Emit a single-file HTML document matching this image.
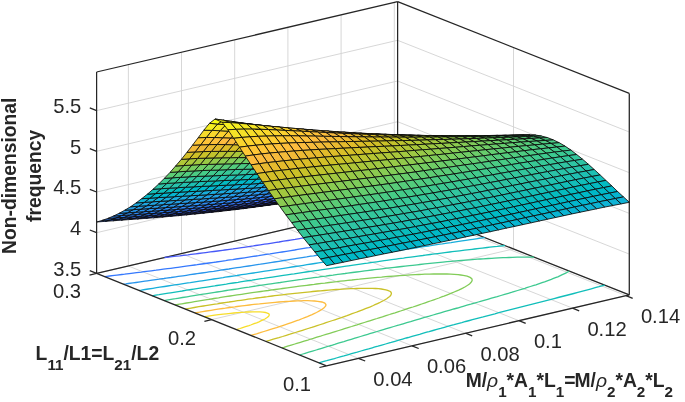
<!DOCTYPE html>
<html><head><meta charset="utf-8"><title>Surface plot</title>
<style>html,body{margin:0;padding:0;background:#fff}svg{display:block}</style></head>
<body>
<svg width="685" height="402" viewBox="0 0 685 402">
<rect width="685" height="402" fill="#fff"/>
<line x1="128.4" y1="266" x2="128.4" y2="64.6" stroke="#d2d2d2" stroke-width="0.9"/>
<line x1="128.4" y1="266" x2="358.4" y2="358.3" stroke="#d2d2d2" stroke-width="0.9"/>
<line x1="181.5" y1="253.6" x2="181.5" y2="52.2" stroke="#d2d2d2" stroke-width="0.9"/>
<line x1="181.5" y1="253.6" x2="412" y2="345.8" stroke="#d2d2d2" stroke-width="0.9"/>
<line x1="234.7" y1="241.1" x2="234.7" y2="39.8" stroke="#d2d2d2" stroke-width="0.9"/>
<line x1="234.7" y1="241.1" x2="465.5" y2="333.2" stroke="#d2d2d2" stroke-width="0.9"/>
<line x1="287.9" y1="228.7" x2="287.9" y2="27.3" stroke="#d2d2d2" stroke-width="0.9"/>
<line x1="287.9" y1="228.7" x2="519" y2="320.7" stroke="#d2d2d2" stroke-width="0.9"/>
<line x1="341.1" y1="216.3" x2="341.1" y2="14.9" stroke="#d2d2d2" stroke-width="0.9"/>
<line x1="341.1" y1="216.3" x2="572.5" y2="308.1" stroke="#d2d2d2" stroke-width="0.9"/>
<line x1="394.3" y1="203.9" x2="394.3" y2="2.5" stroke="#d2d2d2" stroke-width="0.9"/>
<line x1="394.3" y1="203.9" x2="626" y2="295.6" stroke="#d2d2d2" stroke-width="0.9"/>
<line x1="397.6" y1="203.1" x2="397.6" y2="1.7" stroke="#d2d2d2" stroke-width="0.9"/>
<line x1="96.6" y1="273.4" x2="397.6" y2="203.1" stroke="#d2d2d2" stroke-width="0.9"/>
<line x1="513.5" y1="248.9" x2="513.5" y2="47.6" stroke="#d2d2d2" stroke-width="0.9"/>
<line x1="211.6" y1="319.6" x2="513.5" y2="248.9" stroke="#d2d2d2" stroke-width="0.9"/>
<line x1="629.3" y1="294.8" x2="629.3" y2="93.4" stroke="#d2d2d2" stroke-width="0.9"/>
<line x1="326.5" y1="365.8" x2="629.3" y2="294.8" stroke="#d2d2d2" stroke-width="0.9"/>
<line x1="96.6" y1="273.4" x2="397.6" y2="203.1" stroke="#d2d2d2" stroke-width="0.9"/>
<line x1="397.6" y1="203.1" x2="629.3" y2="294.8" stroke="#d2d2d2" stroke-width="0.9"/>
<line x1="96.6" y1="232.7" x2="397.6" y2="162.4" stroke="#d2d2d2" stroke-width="0.9"/>
<line x1="397.6" y1="162.4" x2="629.3" y2="254.1" stroke="#d2d2d2" stroke-width="0.9"/>
<line x1="96.6" y1="192" x2="397.6" y2="121.7" stroke="#d2d2d2" stroke-width="0.9"/>
<line x1="397.6" y1="121.7" x2="629.3" y2="213.4" stroke="#d2d2d2" stroke-width="0.9"/>
<line x1="96.6" y1="151.3" x2="397.6" y2="81" stroke="#d2d2d2" stroke-width="0.9"/>
<line x1="397.6" y1="81" x2="629.3" y2="172.7" stroke="#d2d2d2" stroke-width="0.9"/>
<line x1="96.6" y1="110.6" x2="397.6" y2="40.3" stroke="#d2d2d2" stroke-width="0.9"/>
<line x1="397.6" y1="40.3" x2="629.3" y2="132" stroke="#d2d2d2" stroke-width="0.9"/>
<line x1="96.6" y1="72" x2="397.6" y2="1.7" stroke="#262626" stroke-width="1.25"/>
<line x1="397.6" y1="1.7" x2="629.3" y2="93.4" stroke="#262626" stroke-width="1.25"/>
<line x1="397.6" y1="203.1" x2="397.6" y2="1.7" stroke="#262626" stroke-width="1.25"/>
<line x1="629.3" y1="294.8" x2="629.3" y2="93.4" stroke="#262626" stroke-width="1.25"/>
<line x1="96.6" y1="273.4" x2="397.6" y2="203.1" stroke="#262626" stroke-width="1.25"/>
<line x1="397.6" y1="203.1" x2="629.3" y2="294.8" stroke="#262626" stroke-width="1.25"/>
<polyline points="402.8,205.2 398.7,206.1 394.5,207 390.3,207.9 386.1,208.8 381.9,209.7 377.7,210.6 374.1,211.3 371.3,211.9 367,212.8 362.7,213.6 358.4,214.5 354.1,215.3 349.7,216.2 347.6,216.6 343.2,217.4 338.8,218.2 334.4,219 329.9,219.8 327.7,220.2 323.2,221 318.7,221.8 314.2,222.6 313.9,222.6" fill="none" stroke="#463bdc" stroke-width="1.3"/>
<polyline points="426.5,214.5 422.3,215.4 418.1,216.3 413.9,217.2 409.6,218.1 405.4,219 401.1,219.9 396.9,220.7 392.6,221.6 390.4,222 386.1,222.9 381.8,223.7 377.5,224.6 373.1,225.4 368.8,226.3 366.6,226.7 362.2,227.5 357.8,228.3 353.4,229.2 349,230 346.8,230.4 342.4,231.2 337.9,232 333.5,232.8 331.2,233.2 326.8,234 322.3,234.8 317.8,235.5 315.5,235.9 311,236.7 306.5,237.5 301.9,238.2 299.6,238.6 295.1,239.4 290.5,240.1 288.2,240.5 283.6,241.2 279,242 276.2,242.4 272,243.1 267.4,243.8 264.5,244.2 260.4,244.8 255.7,245.5 253.4,245.9 248.7,246.6 243.9,247.3 241.6,247.6 236.8,248.3 232.9,248.9 229.7,249.3 224.9,250 222.5,250.3 217.7,251 213.9,251.5 210.4,251.9 205.6,252.6 203.2,252.9 198.3,253.5 195.8,253.8 190.9,254.4 188,254.8 183.5,255.3 179.9,255.8 176.1,256.2 172.1,256.7 168.6,257.1 164.5,257.5 164.5,257.5" fill="none" stroke="#4759f8" stroke-width="1.3"/>
<polyline points="447,222.7 443.9,223.3 440.5,223.9 436.2,224.8 431.8,225.6 427.5,226.5 423.1,227.3 421,227.7 416.6,228.6 412.2,229.4 407.8,230.2 403.4,231 400.9,231.5 396.8,232.3 392.4,233.1 387.9,233.9 383.5,234.7 381.3,235.1 376.8,235.9 372.4,236.7 367.9,237.5 365.7,237.9 361.2,238.7 356.7,239.5 352.2,240.3 350,240.6 345.5,241.4 341,242.2 336.5,243 334.2,243.4 329.7,244.1 325.1,244.9 321.2,245.6 318.3,246.1 313.8,246.8 309.2,247.6 306.9,247.9 302.3,248.7 297.8,249.4 294.6,250 290.9,250.6 286.3,251.3 282.1,252 279.4,252.4 274.7,253.1 270.1,253.9 267.8,254.2 263.1,254.9 258.5,255.7 256.2,256 251.5,256.7 247.2,257.4 244.5,257.8 239.8,258.5 236.3,259 232.7,259.6 228,260.2 225.7,260.6 220.9,261.3 216.2,262 213.8,262.3 209.1,263 205.4,263.5 201.9,264 197.2,264.7 194.8,265 190,265.7 186.1,266.2 182.8,266.6 177.9,267.3 175.5,267.6 170.7,268.3 167.6,268.7 163.4,269.2 158.7,269.8 156.1,270.2 151.3,270.8 148.8,271.1 143.9,271.7 141.4,272.1 136.6,272.7 133,273.1 129.2,273.6 124.6,274.2 121.8,274.5 116.9,275.1 114.4,275.4 109.5,276 107,276.3 104.5,276.6" fill="none" stroke="#3578fd" stroke-width="1.3"/>
<polyline points="466,230.2 462.2,230.8 459.3,231.4 454.8,232.1 450.3,232.9 447.1,233.5 443.5,234.1 439,234.9 434.5,235.6 432.2,236 427.7,236.8 423.2,237.6 418.6,238.4 416.4,238.7 411.8,239.5 407.3,240.3 403.4,240.9 400.5,241.4 396,242.2 391.4,243 389.1,243.4 384.6,244.1 380,244.9 375.7,245.6 373.2,246 368.6,246.8 364.1,247.5 361.8,247.9 357.2,248.7 352.6,249.4 349,250 345.8,250.5 341.2,251.3 336.6,252 334.3,252.4 329.7,253.2 325.1,253.9 322.8,254.3 318.2,255 313.6,255.8 310.7,256.2 306.7,256.9 302.1,257.6 298.4,258.2 295.2,258.7 290.5,259.4 286.3,260.1 283.6,260.5 279,261.3 274.4,262 272,262.4 267.4,263.1 262.7,263.8 260.4,264.2 255.7,264.9 251.3,265.6 248.7,266 244.1,266.7 240,267.3 237.1,267.7 232.4,268.4 228.9,269 225.3,269.5 220.7,270.2 218,270.6 213.6,271.3 208.9,271.9 206.5,272.3 201.8,273 197.1,273.7 194.8,274 190,274.7 186.3,275.3 182.9,275.8 178.2,276.4 175.8,276.8 171.1,277.5 166.3,278.1 164,278.5 159.2,279.2 155.9,279.6 152.1,280.2 147.3,280.9 144.9,281.2 140.2,281.9 136,282.5 133,282.9 128.3,283.5 125.9,283.9 123.5,284.2" fill="none" stroke="#2895ec" stroke-width="1.3"/>
<polyline points="484.7,237.6 482.3,237.9 477.6,238.6 472.9,239.3 470.5,239.7 465.8,240.4 462,240.9 458.7,241.4 454,242.1 451.1,242.6 447,243.2 442.3,243.9 439.9,244.2 435.2,244.9 430.6,245.7 428.2,246 423.5,246.7 418.9,247.4 416.5,247.8 411.8,248.5 407.2,249.2 404.8,249.6 400.2,250.3 395.5,251 393.2,251.4 388.5,252.1 383.9,252.8 381.5,253.2 376.8,253.9 372.5,254.6 369.8,255 365.2,255.7 361,256.3 358.2,256.8 353.5,257.5 349.5,258.1 346.5,258.6 341.9,259.3 337.9,259.9 334.9,260.4 330.2,261.1 326.4,261.7 323.3,262.2 318.6,262.9 314.8,263.5 311.6,264 307,264.7 303.3,265.3 300,265.8 295.3,266.5 291.8,267 288.3,267.6 283.7,268.3 280.3,268.8 276.7,269.4 272,270.1 268.9,270.6 265,271.2 260.4,271.9 257.5,272.3 253.4,273 248.7,273.7 246.1,274.1 241.7,274.7 237,275.5 234.7,275.8 230,276.5 225.3,277.2 223,277.6 218.3,278.3 213.7,279 211.3,279.4 206.6,280.1 202,280.8 199.6,281.2 195,281.9 190.3,282.6 187.9,282.9 183.3,283.6 178.9,284.3 176.3,284.7 171.6,285.4 167.7,286 164.6,286.5 159.9,287.2 156.5,287.7 152.9,288.3 148.2,289 145.1,289.5 141.3,290.1 138.9,290.4" fill="none" stroke="#18aedb" stroke-width="1.3"/>
<polyline points="319,362.8 322.9,361.7 326.7,360.7 330.5,359.6 334.4,358.6 336.3,358 340.1,356.9 343.9,355.9 347.7,354.8 351.5,353.7 355.3,352.6 357.2,352.1 361,351 364.8,349.9 368.6,348.9 372.3,347.8 374.2,347.2 378,346.2 381.8,345.1 385.6,344 389.3,342.9 391.2,342.4 395,341.3 398.8,340.2 402.6,339.1 406.3,338 408.2,337.5 412,336.4 415.8,335.3 419.6,334.3 423.4,333.2 426.7,332.2 429.1,331.6 433,330.5 436.8,329.4 440.6,328.4 444.4,327.3 447.6,326.4 450.2,325.7 454.1,324.7 457.9,323.6 461.8,322.6 465.6,321.5 469.5,320.5 472.4,319.7 475.4,318.9 479.3,317.9 483.2,316.9 487.1,315.8 491,314.8 494.9,313.8 498.8,312.7 502.8,311.7 504.7,311.2 508.7,310.2 512.6,309.2 516.6,308.2 520.5,307.2 524.5,306.1 528.4,305.1 532.4,304.1 536.3,303.1 540.3,302.1 544.3,301.1 546.2,300.6 550.2,299.6 554.1,298.6 558.1,297.5 562,296.5 566,295.5 569.9,294.5 573.8,293.5 577.8,292.4 581.7,291.4 583.6,290.9 587.5,289.8 591.3,288.8 595.2,287.7 599,286.7 602.8,285.6 604.7,285.1" fill="none" stroke="#11beba" stroke-width="1.3"/>
<polyline points="504.8,245.5 502.3,245.8 497.3,246.4 494.6,246.6 489.8,247.2 487.1,247.5 482.2,248.1 479.5,248.4 474.5,249 472,249.3 467.1,249.8 464.6,250.1 459.6,250.8 457.1,251.1 452.2,251.7 449.8,252 444.8,252.6 441.3,253.1 437.5,253.6 432.6,254.2 430.2,254.5 425.3,255.1 422.9,255.5 418,256.1 414.6,256.6 410.8,257.1 405.9,257.7 403.5,258.1 398.7,258.7 396,259.1 391.5,259.7 386.7,260.4 384.3,260.7 379.5,261.4 376.7,261.8 372.3,262.4 367.6,263.1 365.2,263.4 360.4,264.1 356.9,264.6 353.3,265.1 348.5,265.8 346.1,266.1 341.4,266.8 336.7,267.5 334.3,267.9 329.6,268.6 326,269.1 322.5,269.6 317.7,270.3 315.4,270.6 310.7,271.3 306,272 303.6,272.4 298.9,273.1 294.2,273.8 291.8,274.1 287.1,274.8 283.3,275.4 280.1,275.9 275.4,276.6 272.3,277.1 268.4,277.7 263.7,278.4 261.2,278.7 256.7,279.4 252,280.2 249.6,280.5 245,281.2 240.3,281.9 238,282.3 233.3,283 228.6,283.7 226.3,284.1 221.6,284.8 217,285.5 214.7,285.9 210,286.6 205.4,287.3 203,287.7 198.4,288.4 193.8,289.1 191.4,289.5 186.8,290.2 182.2,291 179.9,291.3 175.2,292.1 170.6,292.8 168.3,293.2 163.7,293.9 159.1,294.7 155.6,295.2 152.3,295.8 152.3,295.8" fill="none" stroke="#11beba" stroke-width="1.3"/>
<polyline points="299.5,355 302.9,354 305.1,353.3 308.8,352.2 312.5,351.1 316.2,350 318.1,349.4 321.7,348.3 325.4,347.2 329.1,346 331,345.5 334.7,344.4 338.3,343.2 342,342.1 343.9,341.6 347.5,340.4 351.2,339.3 354.9,338.2 356.8,337.6 360.5,336.5 364.1,335.4 367.8,334.3 369.7,333.7 373.4,332.6 377.1,331.5 380.8,330.4 383.4,329.6 386.4,328.7 390.1,327.6 393.8,326.5 397.5,325.4 399.4,324.9 403.1,323.8 406.8,322.7 410.6,321.6 413,320.8 416.2,319.9 419.9,318.8 423.7,317.7 427.4,316.6 429.3,316.1 433.1,315 436.8,313.9 440.6,312.8 444.4,311.7 446.2,311.2 450,310.1 453.8,309 457.6,308 461.3,306.9 463.2,306.3 467,305.2 470.8,304.2 474.5,303.1 478.3,302 480.5,301.4 484,300.4 487.7,299.3 491.5,298.2 495.3,297.1 497.2,296.6 500.9,295.5 504.6,294.4 508.3,293.3 512.1,292.2 513.9,291.6 517.6,290.5 521.3,289.4 524.9,288.3 526.7,287.7 530.4,286.5 533.9,285.4 535.9,284.8 539.3,283.6 542.8,282.4 544.6,281.8 547.9,280.6 551.3,279.4 552.9,278.7 556.2,277.4 557.8,276.8 560.8,275.4 562.3,274.7 565.2,273.3 566.6,272.6 568,271.8 569.2,271" fill="none" stroke="#3dc990" stroke-width="1.3"/>
<polyline points="534,257.1 530.7,257.1 527.5,257.1 524.3,257.1 521.1,257.1 517.1,257.2 512.7,257.3 509,257.5 506,257.6 503.1,257.7 498.5,257.9 494.5,258.1 491.6,258.3 488.2,258.5 483.2,258.8 480.5,259 477.3,259.2 472.2,259.6 469.5,259.8 465.7,260.1 461.4,260.5 458.7,260.7 453.5,261.2 450.8,261.4 447.1,261.7 442.9,262.1 440.3,262.4 435.1,262.9 432.5,263.2 427.4,263.7 424.8,263.9 419.8,264.5 417.1,264.8 412.6,265.3 409.5,265.6 405.1,266.1 401.9,266.5 397.5,267 394.4,267.3 389.7,267.9 386.9,268.2 381.9,268.8 379.5,269.1 374.5,269.7 372,270 367.1,270.6 364.7,270.9 359.8,271.6 356.5,272 352.4,272.5 347.7,273.1 345.1,273.5 340.3,274.1 337.8,274.4 333,275.1 329.6,275.5 325.7,276.1 320.9,276.7 318.5,277.1 313.7,277.7 310.7,278.1 306.5,278.7 301.8,279.4 299.4,279.7 294.6,280.4 291,280.9 287.5,281.4 282.7,282.1 280.3,282.5 275.6,283.1 270.9,283.8 268.5,284.2 263.8,284.9 259.9,285.4 256.7,285.9 252,286.6 249.1,287.1 245,287.7 240.3,288.4 237.9,288.8 233.3,289.5 228.6,290.2 226.3,290.5 221.6,291.3 217,292 214.7,292.3 210,293.1 205.4,293.8 203.1,294.2 198.5,294.9 193.9,295.7 190.6,296.2 187,296.8 182.4,297.5 177.8,298.3 175.6,298.7 171,299.4 166.5,300.2 164.2,300.6" fill="none" stroke="#3dc990" stroke-width="1.3"/>
<polyline points="282,347.9 283.9,347.4 287.6,346.2 291.2,345.1 294.9,344 296.8,343.4 300.4,342.3 304.1,341.2 307.8,340.1 309.6,339.5 313.3,338.4 316.9,337.2 320.6,336.1 322.4,335.5 326,334.4 329.7,333.3 332.7,332.4 335.2,331.6 338.8,330.5 342.5,329.3 344.5,328.7 347.9,327.6 351.6,326.5 355.2,325.3 357,324.8 360.6,323.6 364.3,322.5 367.8,321.4 369.7,320.8 373.4,319.6 377,318.5 379.1,317.8 382.4,316.8 386,315.6 389.6,314.5 391.4,313.9 395,312.8 398.6,311.6 400.6,311 404,309.9 407.5,308.7 410.6,307.7 412.9,307 416.4,305.8 419.9,304.6 421.7,304 425.2,302.8 428.4,301.7 430.4,301 433.8,299.8 436.1,299 439,298 442.3,296.7 444,296.1 447.3,294.8 449,294.2 452.1,292.9 454.2,292 456.8,290.9 458.6,290.1 461.3,288.8 462.7,288.1 465.3,286.7 466.8,285.8 468,285 469.5,283.9 470.9,282.6 471.7,281.5 472.1,280.5 472.1,279.6 471.8,278.7 470.1,277.4 467.1,276.2 463.2,275.3 460.7,275 458.1,274.7 454.2,274.4 450.5,274.2 446.9,274 443.5,274 440.2,274 437,274 433.7,274 429.4,274.1 424.9,274.2 421.8,274.4 418.9,274.5 415.3,274.7 410.3,274.9 407.5,275.1 404.7,275.3 399.3,275.7 396.4,275.9 393.6,276.1 388.3,276.5 385.6,276.7 381.6,277.1 377.7,277.4 375,277.7 369.8,278.2 367.2,278.4 362,278.9 359.4,279.2 355,279.6 351.8,280 347.8,280.4 344.1,280.8 340.4,281.2 336.6,281.7 332.7,282.1 329.1,282.5 324.8,283.1 321.6,283.4 316.7,284 314.2,284.4 309.2,285 306.8,285.3 301.9,285.9 299.5,286.2 294.6,286.9 290.8,287.4 287.3,287.8 282.5,288.5 280.1,288.8 275.3,289.5 272.1,289.9 268.1,290.5 263.3,291.1 260.9,291.5 256.1,292.2 252.2,292.7 249,293.2 244.3,293.9 241.7,294.3 237.2,294.9 232.6,295.6 230.2,296 225.5,296.7 220.9,297.4 218.6,297.8 213.9,298.5 209.3,299.3 207,299.6 202.4,300.4 197.8,301.1 194.5,301.7 191,302.3 186.4,303 181.9,303.8 179.6,304.2 175.1,305 175.1,305" fill="none" stroke="#82cc58" stroke-width="1.3"/>
<polyline points="265.9,341.4 269.6,340.3 273.3,339.2 277,338.1 278.9,337.6 282.6,336.5 286.3,335.3 289.9,334.2 291.7,333.6 295.4,332.5 299,331.4 302.5,330.3 304.5,329.7 308.1,328.5 311.7,327.4 313.5,326.8 317.1,325.6 320.6,324.5 323.4,323.6 326,322.7 329.5,321.5 332.7,320.5 334.8,319.8 338.3,318.6 341.3,317.6 343.5,316.8 347,315.6 349.1,314.8 352.1,313.7 355.5,312.5 357.2,311.9 360.5,310.6 362.6,309.8 365.4,308.7 368.3,307.6 370.3,306.8 373.3,305.5 375,304.7 377.5,303.6 379.5,302.7 381.2,301.8 383.7,300.5 385,299.7 386.7,298.7 388.6,297.3 389.7,296.4 390.6,295.5 391.2,294.4 391.4,293.2 391,292.2 390.3,291.5 387.7,290.3 385.9,289.8 381.3,289 378.6,288.7 375.5,288.5 372.2,288.4 368.6,288.3 364.8,288.3 360.7,288.4 356.8,288.5 353.8,288.6 350.9,288.7 346.7,288.9 342.3,289.1 339.5,289.3 336.1,289.5 331.3,289.9 328.6,290.1 324.4,290.5 320.6,290.8 317.9,291 312.7,291.5 310.1,291.8 304.9,292.3 302.4,292.6 297.6,293.1 294.8,293.4 290.1,293.9 287.2,294.2 282.3,294.8 279.7,295.1 274.8,295.7 272.3,296 267.4,296.7 264.9,297 260.1,297.6 256.8,298 252.8,298.6 248,299.2 245.6,299.6 240.8,300.3 237.6,300.7 233.7,301.3 229,302 226.6,302.3 222,303 217.3,303.8 215,304.1 210.3,304.9 205.7,305.6 203.4,306 198.9,306.7 194.3,307.5 189.8,308.3 187.6,308.7 185.3,309.1" fill="none" stroke="#cac128" stroke-width="1.3"/>
<polyline points="250.8,335.4 254.6,334.3 256.5,333.8 260.2,332.7 263.9,331.5 267.6,330.4 269.8,329.7 273,328.7 276.6,327.6 280.2,326.4 281.9,325.8 285.5,324.6 289,323.4 290.7,322.8 294.1,321.6 296.7,320.7 299.2,319.8 302.5,318.5 304.1,317.9 307.4,316.6 309,315.9 312.1,314.6 313.6,313.9 316.5,312.5 317.9,311.7 319.8,310.7 321.9,309.4 323.1,308.6 324.1,307.7 325.1,306.7 325.8,305.7 325.9,304.5 324.8,303.1 321.9,302 317.7,301.3 314.5,301 311.4,300.8 307.8,300.7 303.9,300.7 300.4,300.8 297.4,300.9 294.4,301 289.9,301.3 286,301.5 283.2,301.7 278.8,302 275.1,302.3 272.5,302.6 267.2,303.1 264.7,303.3 259.5,303.9 257,304.1 251.9,304.7 249.4,305 244.5,305.6 242,305.9 237.1,306.5 234.7,306.9 229.9,307.5 225.3,308.2 222.7,308.5 218,309.2 214.8,309.7 211,310.3 206.3,311 202.7,311.6 199.5,312.2 194.9,312.9 194.9,312.9" fill="none" stroke="#fdbc3e" stroke-width="1.3"/>
<polyline points="236.4,329.6 240.1,328.5 241.9,327.9 245.5,326.7 249,325.6 250.7,325 254.1,323.7 256.6,322.8 259,321.8 261.3,320.7 263.5,319.7 264.9,319 267.1,317.6 268.4,316.5 269.1,315.5 269.2,314.3 268.5,313.6 265.4,312.5 263,312.1 260.1,311.9 256.6,311.8 252.6,311.8 248,312 244.7,312.2 241.9,312.3 237.1,312.7 233.9,313 230.5,313.3 226.2,313.8 223.1,314.1 218.7,314.7 214.6,315.2 211.5,315.7 206.7,316.4 204.4,316.7" fill="none" stroke="#f7dd2a" stroke-width="1.3"/>
<g stroke="#0a0a0a" stroke-width="0.85" stroke-linejoin="round"><polygon points="389.5,183.6 397.6,181.9 403.3,180.7 395.2,182.4" fill="#463bdd"/><polygon points="395.2,182.4 403.3,180.7 409,179.3 400.8,181" fill="#4742e6"/><polygon points="400.8,181 409,179.3 414.7,177.7 406.5,179.4" fill="#4849ed"/><polygon points="406.5,179.4 414.7,177.7 420.4,175.9 412.2,177.7" fill="#4851f3"/><polygon points="412.2,177.7 420.4,175.9 426,174 417.9,175.7" fill="#4758f8"/><polygon points="417.9,175.7 426,174 431.7,171.9 423.6,173.6" fill="#4660fc"/><polygon points="423.6,173.6 431.7,171.9 437.4,169.7 429.3,171.3" fill="#4269fe"/><polygon points="429.3,171.3 437.4,169.7 443.1,167.4 435,168.9" fill="#3b72ff"/><polygon points="435,168.9 443.1,167.4 448.8,164.9 440.6,166.3" fill="#327cfc"/><polygon points="440.6,166.3 448.8,164.9 454.5,162.3 446.3,163.7" fill="#2e85f8"/><polygon points="446.3,163.7 454.5,162.3 460.2,159.7 452,161" fill="#2d8ef1"/><polygon points="452,161 460.2,159.7 465.9,157 457.7,158.1" fill="#2796eb"/><polygon points="457.7,158.1 465.9,157 471.5,154.3 463.4,155.3" fill="#249ee6"/><polygon points="463.4,155.3 471.5,154.3 477.2,151.5 469.1,152.5" fill="#1fa6e2"/><polygon points="469.1,152.5 477.2,151.5 482.9,148.9 474.8,149.7" fill="#18addb"/><polygon points="474.8,149.7 482.9,148.9 488.6,146.3 480.4,146.9" fill="#0cb3d3"/><polygon points="480.4,146.9 488.6,146.3 494.3,143.8 486.1,144.3" fill="#00b8c9"/><polygon points="486.1,144.3 494.3,143.8 500,141.5 491.8,141.9" fill="#07bcbf"/><polygon points="491.8,141.9 500,141.5 505.7,139.4 497.5,139.8" fill="#1ac0b5"/><polygon points="497.5,139.8 505.7,139.4 511.4,137.7 503.2,137.9" fill="#28c2ab"/><polygon points="503.2,137.9 511.4,137.7 517,136.3 508.9,136.5" fill="#30c5a2"/><polygon points="508.9,136.5 517,136.3 524.1,135.2 515.9,135.3" fill="#37c897"/><polygon points="515.9,135.3 524.1,135.2 530,134.9 521.8,135" fill="#3eca8f"/><polygon points="521.8,135 530,134.9 535.8,135.1 527.6,135.4" fill="#44cb89"/><polygon points="527.6,135.4 535.8,135.1 541.6,136.1 533.5,136.3" fill="#49cb85"/><polygon points="533.5,136.3 541.6,136.1 547.5,137.6 539.3,138" fill="#4ccb83"/><polygon points="539.3,138 547.5,137.6 553.3,139.9 545.2,140.4" fill="#4ccb83"/><polygon points="545.2,140.4 553.3,139.9 559.2,142.7 551,143.4" fill="#49cb85"/><polygon points="551,143.4 559.2,142.7 565,146.1 556.8,147" fill="#44cb89"/><polygon points="556.8,147 565,146.1 570.9,150.1 562.7,151.1" fill="#3eca8f"/><polygon points="562.7,151.1 570.9,150.1 576.7,154.5 568.5,155.6" fill="#38c896"/><polygon points="568.5,155.6 576.7,154.5 582.5,159.2 574.4,160.5" fill="#33c79d"/><polygon points="574.4,160.5 582.5,159.2 588.4,164.3 580.2,165.7" fill="#2ec4a4"/><polygon points="580.2,165.7 588.4,164.3 594.2,169.5 586.1,171" fill="#27c2ac"/><polygon points="586.1,171 594.2,169.5 600.1,174.9 591.9,176.5" fill="#1dc0b3"/><polygon points="591.9,176.5 600.1,174.9 605.9,180.4 597.7,182" fill="#0fbeba"/><polygon points="597.7,182 605.9,180.4 611.8,185.9 603.6,187.6" fill="#03bbc2"/><polygon points="603.6,187.6 611.8,185.9 617.6,191.5 609.4,193.1" fill="#00b8c9"/><polygon points="609.4,193.1 617.6,191.5 623.5,196.9 615.3,198.5" fill="#06b5cf"/><polygon points="615.3,198.5 623.5,196.9 629.3,202.3 621.1,203.9" fill="#10b2d5"/><polygon points="381.3,185.4 389.5,183.6 395.2,182.4 387,184.2" fill="#463cde"/><polygon points="387,184.2 395.2,182.4 400.8,181 392.7,182.8" fill="#4742e6"/><polygon points="392.7,182.8 400.8,181 406.5,179.4 398.4,181.2" fill="#4849ed"/><polygon points="398.4,181.2 406.5,179.4 412.2,177.7 404.1,179.4" fill="#4851f3"/><polygon points="404.1,179.4 412.2,177.7 417.9,175.7 409.8,177.4" fill="#4759f8"/><polygon points="409.8,177.4 417.9,175.7 423.6,173.6 415.4,175.2" fill="#4661fc"/><polygon points="415.4,175.2 423.6,173.6 429.3,171.3 421.1,172.9" fill="#426afe"/><polygon points="421.1,172.9 429.3,171.3 435,168.9 426.8,170.4" fill="#3a73ff"/><polygon points="426.8,170.4 435,168.9 440.6,166.3 432.5,167.8" fill="#317dfc"/><polygon points="432.5,167.8 440.6,166.3 446.3,163.7 438.2,165" fill="#2e86f7"/><polygon points="438.2,165 446.3,163.7 452,161 443.9,162.2" fill="#2c8ff0"/><polygon points="443.9,162.2 452,161 457.7,158.1 449.6,159.3" fill="#2798ea"/><polygon points="449.6,159.3 457.7,158.1 463.4,155.3 455.2,156.3" fill="#23a0e5"/><polygon points="455.2,156.3 463.4,155.3 469.1,152.5 460.9,153.3" fill="#1ea8e1"/><polygon points="460.9,153.3 469.1,152.5 474.8,149.7 466.6,150.4" fill="#16afda"/><polygon points="466.6,150.4 474.8,149.7 480.4,146.9 472.3,147.6" fill="#07b5d0"/><polygon points="472.3,147.6 480.4,146.9 486.1,144.3 478,144.8" fill="#00b9c6"/><polygon points="478,144.8 486.1,144.3 491.8,141.9 483.7,142.3" fill="#0ebdbb"/><polygon points="483.7,142.3 491.8,141.9 497.5,139.8 489.4,140.1" fill="#21c1b1"/><polygon points="489.4,140.1 497.5,139.8 503.2,137.9 495,138.2" fill="#2cc4a7"/><polygon points="495,138.2 503.2,137.9 508.9,136.5 500.7,136.7" fill="#33c69d"/><polygon points="500.7,136.7 508.9,136.5 515.9,135.3 507.8,135.5" fill="#3bc992"/><polygon points="507.8,135.5 515.9,135.3 521.8,135 513.6,135.2" fill="#43cb8a"/><polygon points="513.6,135.2 521.8,135 527.6,135.4 519.5,135.6" fill="#4bcb84"/><polygon points="519.5,135.6 527.6,135.4 533.5,136.3 525.3,136.6" fill="#50cc80"/><polygon points="525.3,136.6 533.5,136.3 539.3,138 531.2,138.4" fill="#52cc7e"/><polygon points="531.2,138.4 539.3,138 545.2,140.4 537,141" fill="#51cc7f"/><polygon points="537,141 545.2,140.4 551,143.4 542.8,144.1" fill="#4ecc81"/><polygon points="542.8,144.1 551,143.4 556.8,147 548.7,147.9" fill="#48cb86"/><polygon points="548.7,147.9 556.8,147 562.7,151.1 554.5,152.1" fill="#41ca8c"/><polygon points="554.5,152.1 562.7,151.1 568.5,155.6 560.4,156.8" fill="#3ac993"/><polygon points="560.4,156.8 568.5,155.6 574.4,160.5 566.2,161.8" fill="#34c79b"/><polygon points="566.2,161.8 574.4,160.5 580.2,165.7 572,167.1" fill="#2fc5a3"/><polygon points="572,167.1 580.2,165.7 586.1,171 577.9,172.5" fill="#28c3ab"/><polygon points="577.9,172.5 586.1,171 591.9,176.5 583.7,178.1" fill="#1ec0b2"/><polygon points="583.7,178.1 591.9,176.5 597.7,182 589.6,183.6" fill="#11beba"/><polygon points="589.6,183.6 597.7,182 603.6,187.6 595.4,189.2" fill="#04bbc1"/><polygon points="595.4,189.2 603.6,187.6 609.4,193.1 601.2,194.7" fill="#00b9c8"/><polygon points="601.2,194.7 609.4,193.1 615.3,198.5 607.1,200.2" fill="#05b5cf"/><polygon points="607.1,200.2 615.3,198.5 621.1,203.9 612.9,205.5" fill="#0fb2d4"/><polygon points="373.2,187.1 381.3,185.4 387,184.2 378.9,185.9" fill="#463cde"/><polygon points="378.9,185.9 387,184.2 392.7,182.8 384.6,184.5" fill="#4743e7"/><polygon points="384.6,184.5 392.7,182.8 398.4,181.2 390.2,182.9" fill="#484aee"/><polygon points="390.2,182.9 398.4,181.2 404.1,179.4 395.9,181" fill="#4851f4"/><polygon points="395.9,181 404.1,179.4 409.8,177.4 401.6,179" fill="#4759f9"/><polygon points="401.6,179 409.8,177.4 415.4,175.2 407.3,176.8" fill="#4562fc"/><polygon points="407.3,176.8 415.4,175.2 421.1,172.9 413,174.4" fill="#426bfe"/><polygon points="413,174.4 421.1,172.9 426.8,170.4 418.7,171.8" fill="#3a74ff"/><polygon points="418.7,171.8 426.8,170.4 432.5,167.8 424.4,169.1" fill="#307efb"/><polygon points="424.4,169.1 432.5,167.8 438.2,165 430,166.3" fill="#2d87f7"/><polygon points="430,166.3 438.2,165 443.9,162.2 435.7,163.3" fill="#2c90ef"/><polygon points="435.7,163.3 443.9,162.2 449.6,159.3 441.4,160.3" fill="#2699e9"/><polygon points="441.4,160.3 449.6,159.3 455.2,156.3 447.1,157.2" fill="#22a1e4"/><polygon points="447.1,157.2 455.2,156.3 460.9,153.3 452.8,154.2" fill="#1ca9df"/><polygon points="452.8,154.2 460.9,153.3 466.6,150.4 458.5,151.1" fill="#14b0d7"/><polygon points="458.5,151.1 466.6,150.4 472.3,147.6 464.1,148.2" fill="#04b6cd"/><polygon points="464.1,148.2 472.3,147.6 478,144.8 469.8,145.3" fill="#02bbc3"/><polygon points="469.8,145.3 478,144.8 483.7,142.3 475.5,142.7" fill="#15bfb8"/><polygon points="475.5,142.7 483.7,142.3 489.4,140.1 481.2,140.3" fill="#26c2ad"/><polygon points="481.2,140.3 489.4,140.1 495,138.2 486.9,138.3" fill="#2fc5a3"/><polygon points="486.9,138.3 495,138.2 500.7,136.7 492.6,136.8" fill="#36c898"/><polygon points="492.6,136.8 500.7,136.7 507.8,135.5 499.6,135.6" fill="#40ca8d"/><polygon points="499.6,135.6 507.8,135.5 513.6,135.2 505.5,135.3" fill="#4acb84"/><polygon points="505.5,135.3 513.6,135.2 519.5,135.6 511.3,135.8" fill="#52cc7e"/><polygon points="511.3,135.8 519.5,135.6 525.3,136.6 517.1,136.9" fill="#57cc7a"/><polygon points="517.1,136.9 525.3,136.6 531.2,138.4 523,138.9" fill="#58cc79"/><polygon points="523,138.9 531.2,138.4 537,141 528.8,141.5" fill="#57cc7a"/><polygon points="528.8,141.5 537,141 542.8,144.1 534.7,144.9" fill="#53cc7e"/><polygon points="534.7,144.9 542.8,144.1 548.7,147.9 540.5,148.8" fill="#4ccb83"/><polygon points="540.5,148.8 548.7,147.9 554.5,152.1 546.3,153.2" fill="#44cb8a"/><polygon points="546.3,153.2 554.5,152.1 560.4,156.8 552.2,158" fill="#3cc991"/><polygon points="552.2,158 560.4,156.8 566.2,161.8 558,163.2" fill="#35c79a"/><polygon points="558,163.2 566.2,161.8 572,167.1 563.9,168.6" fill="#30c5a2"/><polygon points="563.9,168.6 572,167.1 577.9,172.5 569.7,174.1" fill="#29c3aa"/><polygon points="569.7,174.1 577.9,172.5 583.7,178.1 575.5,179.7" fill="#1fc0b2"/><polygon points="575.5,179.7 583.7,178.1 589.6,183.6 581.4,185.3" fill="#12beb9"/><polygon points="581.4,185.3 589.6,183.6 595.4,189.2 587.2,190.9" fill="#04bcc1"/><polygon points="587.2,190.9 595.4,189.2 601.2,194.7 593.1,196.4" fill="#00b9c8"/><polygon points="593.1,196.4 601.2,194.7 607.1,200.2 598.9,201.8" fill="#04b6ce"/><polygon points="598.9,201.8 607.1,200.2 612.9,205.5 604.7,207.1" fill="#0eb3d4"/><polygon points="365.1,188.7 373.2,187.1 378.9,185.9 370.7,187.6" fill="#463cdf"/><polygon points="370.7,187.6 378.9,185.9 384.6,184.5 376.4,186.1" fill="#4743e7"/><polygon points="376.4,186.1 384.6,184.5 390.2,182.9 382.1,184.5" fill="#484aee"/><polygon points="382.1,184.5 390.2,182.9 395.9,181 387.8,182.6" fill="#4852f4"/><polygon points="387.8,182.6 395.9,181 401.6,179 393.5,180.6" fill="#475af9"/><polygon points="393.5,180.6 401.6,179 407.3,176.8 399.2,178.3" fill="#4562fc"/><polygon points="399.2,178.3 407.3,176.8 413,174.4 404.8,175.8" fill="#416bfe"/><polygon points="404.8,175.8 413,174.4 418.7,171.8 410.5,173.2" fill="#3875fe"/><polygon points="410.5,173.2 418.7,171.8 424.4,169.1 416.2,170.4" fill="#307ffb"/><polygon points="416.2,170.4 424.4,169.1 430,166.3 421.9,167.5" fill="#2d89f6"/><polygon points="421.9,167.5 430,166.3 435.7,163.3 427.6,164.5" fill="#2b92ee"/><polygon points="427.6,164.5 435.7,163.3 441.4,160.3 433.3,161.3" fill="#269ae8"/><polygon points="433.3,161.3 441.4,160.3 447.1,157.2 438.9,158.2" fill="#21a3e4"/><polygon points="438.9,158.2 447.1,157.2 452.8,154.2 444.6,155" fill="#1babde"/><polygon points="444.6,155 452.8,154.2 458.5,151.1 450.3,151.8" fill="#10b2d5"/><polygon points="450.3,151.8 458.5,151.1 464.1,148.2 456,148.7" fill="#01b7cb"/><polygon points="456,148.7 464.1,148.2 469.8,145.3 461.7,145.8" fill="#06bcbf"/><polygon points="461.7,145.8 469.8,145.3 475.5,142.7 467.4,143" fill="#1bc0b4"/><polygon points="467.4,143 475.5,142.7 481.2,140.3 473,140.6" fill="#2ac3a9"/><polygon points="473,140.6 481.2,140.3 486.9,138.3 478.7,138.5" fill="#32c69e"/><polygon points="478.7,138.5 486.9,138.3 492.6,136.8 484.4,136.9" fill="#3ac993"/><polygon points="484.4,136.9 492.6,136.8 499.6,135.6 491.5,135.7" fill="#47cb87"/><polygon points="491.5,135.7 499.6,135.6 505.5,135.3 497.3,135.4" fill="#52cc7e"/><polygon points="497.3,135.4 505.5,135.3 511.3,135.8 503.1,135.9" fill="#59cc78"/><polygon points="503.1,135.9 511.3,135.8 517.1,136.9 509,137.2" fill="#5dcd74"/><polygon points="509,137.2 517.1,136.9 523,138.9 514.8,139.3" fill="#5ecd74"/><polygon points="514.8,139.3 523,138.9 528.8,141.5 520.7,142.1" fill="#5ccc75"/><polygon points="520.7,142.1 528.8,141.5 534.7,144.9 526.5,145.6" fill="#57cc7a"/><polygon points="526.5,145.6 534.7,144.9 540.5,148.8 532.3,149.7" fill="#50cc80"/><polygon points="532.3,149.7 540.5,148.8 546.3,153.2 538.2,154.3" fill="#47cb87"/><polygon points="538.2,154.3 546.3,153.2 552.2,158 544,159.3" fill="#3dca8f"/><polygon points="544,159.3 552.2,158 558,163.2 549.9,164.6" fill="#36c898"/><polygon points="549.9,164.6 558,163.2 563.9,168.6 555.7,170.1" fill="#31c5a1"/><polygon points="555.7,170.1 563.9,168.6 569.7,174.1 561.5,175.7" fill="#2ac3a9"/><polygon points="561.5,175.7 569.7,174.1 575.5,179.7 567.4,181.4" fill="#20c1b1"/><polygon points="567.4,181.4 575.5,179.7 581.4,185.3 573.2,187" fill="#13beb9"/><polygon points="573.2,187 581.4,185.3 587.2,190.9 579,192.7" fill="#05bcc0"/><polygon points="579,192.7 587.2,190.9 593.1,196.4 584.9,198.2" fill="#00b9c7"/><polygon points="584.9,198.2 593.1,196.4 598.9,201.8 590.7,203.6" fill="#04b6ce"/><polygon points="590.7,203.6 598.9,201.8 604.7,207.1 596.6,208.8" fill="#0db3d3"/><polygon points="356.9,190.4 365.1,188.7 370.7,187.6 362.6,189.2" fill="#463de0"/><polygon points="362.6,189.2 370.7,187.6 376.4,186.1 368.3,187.8" fill="#4744e8"/><polygon points="368.3,187.8 376.4,186.1 382.1,184.5 374,186.1" fill="#484bef"/><polygon points="374,186.1 382.1,184.5 387.8,182.6 379.7,184.2" fill="#4853f4"/><polygon points="379.7,184.2 387.8,182.6 393.5,180.6 385.3,182.1" fill="#475bf9"/><polygon points="385.3,182.1 393.5,180.6 399.2,178.3 391,179.8" fill="#4563fd"/><polygon points="391,179.8 399.2,178.3 404.8,175.8 396.7,177.3" fill="#406cfe"/><polygon points="396.7,177.3 404.8,175.8 410.5,173.2 402.4,174.6" fill="#3776fe"/><polygon points="402.4,174.6 410.5,173.2 416.2,170.4 408.1,171.7" fill="#2f80fa"/><polygon points="408.1,171.7 416.2,170.4 421.9,167.5 413.7,168.7" fill="#2d8af5"/><polygon points="413.7,168.7 421.9,167.5 427.6,164.5 419.4,165.5" fill="#2a93ee"/><polygon points="419.4,165.5 427.6,164.5 433.3,161.3 425.1,162.3" fill="#259ce7"/><polygon points="425.1,162.3 433.3,161.3 438.9,158.2 430.8,159" fill="#20a4e3"/><polygon points="430.8,159 438.9,158.2 444.6,155 436.5,155.7" fill="#19acdc"/><polygon points="436.5,155.7 444.6,155 450.3,151.8 442.2,152.4" fill="#0cb3d3"/><polygon points="442.2,152.4 450.3,151.8 456,148.7 447.8,149.2" fill="#00b9c8"/><polygon points="447.8,149.2 456,148.7 461.7,145.8 453.5,146.2" fill="#0cbdbc"/><polygon points="453.5,146.2 461.7,145.8 467.4,143 459.2,143.3" fill="#21c1b0"/><polygon points="459.2,143.3 467.4,143 473,140.6 464.9,140.8" fill="#2ec4a5"/><polygon points="464.9,140.8 473,140.6 478.7,138.5 470.6,138.6" fill="#36c799"/><polygon points="470.6,138.6 478.7,138.5 484.4,136.9 476.2,137" fill="#3fca8e"/><polygon points="476.2,137 484.4,136.9 491.5,135.7 483.3,135.8" fill="#4fcc81"/><polygon points="483.3,135.8 491.5,135.7 497.3,135.4 489.1,135.5" fill="#59cc78"/><polygon points="489.1,135.5 497.3,135.4 503.1,135.9 495,136.1" fill="#60cd72"/><polygon points="495,136.1 503.1,135.9 509,137.2 500.8,137.5" fill="#64cd6f"/><polygon points="500.8,137.5 509,137.2 514.8,139.3 506.7,139.8" fill="#65cd6e"/><polygon points="506.7,139.8 514.8,139.3 520.7,142.1 512.5,142.7" fill="#62cd71"/><polygon points="512.5,142.7 520.7,142.1 526.5,145.6 518.3,146.4" fill="#5ccc76"/><polygon points="518.3,146.4 526.5,145.6 532.3,149.7 524.2,150.7" fill="#54cc7d"/><polygon points="524.2,150.7 532.3,149.7 538.2,154.3 530,155.5" fill="#4acb85"/><polygon points="530,155.5 538.2,154.3 544,159.3 535.8,160.6" fill="#3fca8e"/><polygon points="535.8,160.6 544,159.3 549.9,164.6 541.7,166" fill="#37c897"/><polygon points="541.7,166 549.9,164.6 555.7,170.1 547.5,171.6" fill="#31c6a0"/><polygon points="547.5,171.6 555.7,170.1 561.5,175.7 553.4,177.3" fill="#2bc3a8"/><polygon points="553.4,177.3 561.5,175.7 567.4,181.4 559.2,183.1" fill="#21c1b0"/><polygon points="559.2,183.1 567.4,181.4 573.2,187 565,188.8" fill="#13beb8"/><polygon points="565,188.8 573.2,187 579,192.7 570.9,194.4" fill="#05bcc0"/><polygon points="570.9,194.4 579,192.7 584.9,198.2 576.7,199.9" fill="#00b9c7"/><polygon points="576.7,199.9 584.9,198.2 590.7,203.6 582.5,205.3" fill="#04b6cd"/><polygon points="582.5,205.3 590.7,203.6 596.6,208.8 588.4,210.5" fill="#0cb3d3"/><polygon points="348.8,191.9 356.9,190.4 362.6,189.2 354.5,190.8" fill="#463de0"/><polygon points="354.5,190.8 362.6,189.2 368.3,187.8 360.2,189.3" fill="#4744e8"/><polygon points="360.2,189.3 368.3,187.8 374,186.1 365.8,187.6" fill="#484cef"/><polygon points="365.8,187.6 374,186.1 379.7,184.2 371.5,185.7" fill="#4853f5"/><polygon points="371.5,185.7 379.7,184.2 385.3,182.1 377.2,183.6" fill="#475bfa"/><polygon points="377.2,183.6 385.3,182.1 391,179.8 382.9,181.2" fill="#4564fd"/><polygon points="382.9,181.2 391,179.8 396.7,177.3 388.6,178.6" fill="#406dfe"/><polygon points="388.6,178.6 396.7,177.3 402.4,174.6 394.2,175.9" fill="#3678fe"/><polygon points="394.2,175.9 402.4,174.6 408.1,171.7 399.9,172.9" fill="#2f82fa"/><polygon points="399.9,172.9 408.1,171.7 413.7,168.7 405.6,169.8" fill="#2d8bf4"/><polygon points="405.6,169.8 413.7,168.7 419.4,165.5 411.3,166.6" fill="#2994ed"/><polygon points="411.3,166.6 419.4,165.5 425.1,162.3 417,163.2" fill="#259de6"/><polygon points="417,163.2 425.1,162.3 430.8,159 422.6,159.8" fill="#1fa6e2"/><polygon points="422.6,159.8 430.8,159 436.5,155.7 428.3,156.4" fill="#18aedb"/><polygon points="428.3,156.4 436.5,155.7 442.2,152.4 434,153" fill="#08b5d0"/><polygon points="434,153 442.2,152.4 447.8,149.2 439.7,149.7" fill="#01bac5"/><polygon points="439.7,149.7 447.8,149.2 453.5,146.2 445.4,146.5" fill="#13beb8"/><polygon points="445.4,146.5 453.5,146.2 459.2,143.3 451,143.6" fill="#27c2ac"/><polygon points="451,143.6 459.2,143.3 464.9,140.8 456.7,140.9" fill="#31c6a0"/><polygon points="456.7,140.9 464.9,140.8 470.6,138.6 462.4,138.7" fill="#3ac994"/><polygon points="462.4,138.7 470.6,138.6 476.2,137 468.1,137" fill="#46cb88"/><polygon points="468.1,137 476.2,137 483.3,135.8 475.1,135.8" fill="#56cc7a"/><polygon points="475.1,135.8 483.3,135.8 489.1,135.5 481,135.6" fill="#61cd72"/><polygon points="481,135.6 489.1,135.5 495,136.1 486.8,136.3" fill="#68cd6b"/><polygon points="486.8,136.3 495,136.1 500.8,137.5 492.6,137.8" fill="#6bcd68"/><polygon points="492.6,137.8 500.8,137.5 506.7,139.8 498.5,140.2" fill="#6bcd69"/><polygon points="498.5,140.2 506.7,139.8 512.5,142.7 504.3,143.4" fill="#67cd6c"/><polygon points="504.3,143.4 512.5,142.7 518.3,146.4 510.2,147.2" fill="#61cd72"/><polygon points="510.2,147.2 518.3,146.4 524.2,150.7 516,151.7" fill="#58cc79"/><polygon points="516,151.7 524.2,150.7 530,155.5 521.8,156.6" fill="#4dcc82"/><polygon points="521.8,156.6 530,155.5 535.8,160.6 527.7,161.9" fill="#41ca8c"/><polygon points="527.7,161.9 535.8,160.6 541.7,166 533.5,167.5" fill="#38c895"/><polygon points="533.5,167.5 541.7,166 547.5,171.6 539.3,173.2" fill="#32c69f"/><polygon points="539.3,173.2 547.5,171.6 553.4,177.3 545.2,179" fill="#2bc3a8"/><polygon points="545.2,179 553.4,177.3 559.2,183.1 551,184.8" fill="#22c1b0"/><polygon points="551,184.8 559.2,183.1 565,188.8 556.9,190.5" fill="#14bfb8"/><polygon points="556.9,190.5 565,188.8 570.9,194.4 562.7,196.2" fill="#06bcbf"/><polygon points="562.7,196.2 570.9,194.4 576.7,199.9 568.5,201.7" fill="#00b9c6"/><polygon points="568.5,201.7 576.7,199.9 582.5,205.3 574.4,207" fill="#03b6cd"/><polygon points="574.4,207 582.5,205.3 588.4,210.5 580.2,212.2" fill="#0cb3d3"/><polygon points="340.7,193.5 348.8,191.9 354.5,190.8 346.3,192.3" fill="#473ee1"/><polygon points="346.3,192.3 354.5,190.8 360.2,189.3 352,190.9" fill="#4745e9"/><polygon points="352,190.9 360.2,189.3 365.8,187.6 357.7,189.2" fill="#484cf0"/><polygon points="357.7,189.2 365.8,187.6 371.5,185.7 363.4,187.2" fill="#4854f5"/><polygon points="363.4,187.2 371.5,185.7 377.2,183.6 369.1,185" fill="#475cfa"/><polygon points="369.1,185 377.2,183.6 382.9,181.2 374.7,182.6" fill="#4465fd"/><polygon points="374.7,182.6 382.9,181.2 388.6,178.6 380.4,180" fill="#3f6eff"/><polygon points="380.4,180 388.6,178.6 394.2,175.9 386.1,177.1" fill="#3579fd"/><polygon points="386.1,177.1 394.2,175.9 399.9,172.9 391.8,174.1" fill="#2e83f9"/><polygon points="391.8,174.1 399.9,172.9 405.6,169.8 397.4,170.9" fill="#2d8df2"/><polygon points="397.4,170.9 405.6,169.8 411.3,166.6 403.1,167.6" fill="#2896eb"/><polygon points="403.1,167.6 411.3,166.6 417,163.2 408.8,164.1" fill="#249fe5"/><polygon points="408.8,164.1 417,163.2 422.6,159.8 414.5,160.6" fill="#1ea8e1"/><polygon points="414.5,160.6 422.6,159.8 428.3,156.4 420.2,157.1" fill="#15afd9"/><polygon points="420.2,157.1 428.3,156.4 434,153 425.8,153.6" fill="#04b6cd"/><polygon points="425.8,153.6 434,153 439.7,149.7 431.5,150.1" fill="#04bbc1"/><polygon points="431.5,150.1 439.7,149.7 445.4,146.5 437.2,146.8" fill="#1abfb5"/><polygon points="437.2,146.8 445.4,146.5 451,143.6 442.9,143.8" fill="#2bc3a8"/><polygon points="442.9,143.8 451,143.6 456.7,140.9 448.6,141" fill="#34c79b"/><polygon points="448.6,141 456.7,140.9 462.4,138.7 454.2,138.8" fill="#3fca8e"/><polygon points="454.2,138.8 462.4,138.7 468.1,137 459.9,137" fill="#4dcc82"/><polygon points="459.9,137 468.1,137 475.1,135.8 467,135.8" fill="#5ecd74"/><polygon points="467,135.8 475.1,135.8 481,135.6 472.8,135.7" fill="#69cd6b"/><polygon points="472.8,135.7 481,135.6 486.8,136.3 478.6,136.5" fill="#70cd65"/><polygon points="478.6,136.5 486.8,136.3 492.6,137.8 484.5,138.1" fill="#73cd63"/><polygon points="484.5,138.1 492.6,137.8 498.5,140.2 490.3,140.7" fill="#72cd63"/><polygon points="490.3,140.7 498.5,140.2 504.3,143.4 496.2,144" fill="#6dcd67"/><polygon points="496.2,144 504.3,143.4 510.2,147.2 502,148.1" fill="#65cd6e"/><polygon points="502,148.1 510.2,147.2 516,151.7 507.8,152.7" fill="#5ccc76"/><polygon points="507.8,152.7 516,151.7 521.8,156.6 513.7,157.8" fill="#50cc80"/><polygon points="513.7,157.8 521.8,156.6 527.7,161.9 519.5,163.2" fill="#43cb8a"/><polygon points="519.5,163.2 527.7,161.9 533.5,167.5 525.3,168.9" fill="#39c994"/><polygon points="525.3,168.9 533.5,167.5 539.3,173.2 531.2,174.7" fill="#32c69e"/><polygon points="531.2,174.7 539.3,173.2 545.2,179 537,180.6" fill="#2cc4a7"/><polygon points="537,180.6 545.2,179 551,184.8 542.8,186.5" fill="#23c1af"/><polygon points="542.8,186.5 551,184.8 556.9,190.5 548.7,192.3" fill="#15bfb8"/><polygon points="548.7,192.3 556.9,190.5 562.7,196.2 554.5,197.9" fill="#06bcbf"/><polygon points="554.5,197.9 562.7,196.2 568.5,201.7 560.3,203.5" fill="#00b9c6"/><polygon points="560.3,203.5 568.5,201.7 574.4,207 566.2,208.8" fill="#03b6cd"/><polygon points="566.2,208.8 574.4,207 580.2,212.2 572,213.9" fill="#0bb3d2"/><polygon points="332.5,195 340.7,193.5 346.3,192.3 338.2,193.8" fill="#473fe2"/><polygon points="338.2,193.8 346.3,192.3 352,190.9 343.9,192.3" fill="#4746ea"/><polygon points="343.9,192.3 352,190.9 357.7,189.2 349.6,190.6" fill="#484df0"/><polygon points="349.6,190.6 357.7,189.2 363.4,187.2 355.2,188.6" fill="#4855f6"/><polygon points="355.2,188.6 363.4,187.2 369.1,185 360.9,186.4" fill="#465dfa"/><polygon points="360.9,186.4 369.1,185 374.7,182.6 366.6,183.9" fill="#4466fd"/><polygon points="366.6,183.9 374.7,182.6 380.4,180 372.3,181.2" fill="#3e70ff"/><polygon points="372.3,181.2 380.4,180 386.1,177.1 377.9,178.3" fill="#337afd"/><polygon points="377.9,178.3 386.1,177.1 391.8,174.1 383.6,175.2" fill="#2e84f8"/><polygon points="383.6,175.2 391.8,174.1 397.4,170.9 389.3,172" fill="#2d8ef1"/><polygon points="389.3,172 397.4,170.9 403.1,167.6 395,168.5" fill="#2798ea"/><polygon points="395,168.5 403.1,167.6 408.8,164.1 400.7,165" fill="#23a1e5"/><polygon points="400.7,165 408.8,164.1 414.5,160.6 406.3,161.4" fill="#1ca9df"/><polygon points="406.3,161.4 414.5,160.6 420.2,157.1 412,157.7" fill="#12b1d6"/><polygon points="412,157.7 420.2,157.1 425.8,153.6 417.7,154.1" fill="#01b7cb"/><polygon points="417.7,154.1 425.8,153.6 431.5,150.1 423.4,150.5" fill="#08bcbe"/><polygon points="423.4,150.5 431.5,150.1 437.2,146.8 429,147.1" fill="#20c1b1"/><polygon points="429,147.1 437.2,146.8 442.9,143.8 434.7,143.9" fill="#2ec5a4"/><polygon points="434.7,143.9 442.9,143.8 448.6,141 440.4,141.1" fill="#38c896"/><polygon points="440.4,141.1 448.6,141 454.2,138.8 446.1,138.8" fill="#45cb88"/><polygon points="446.1,138.8 454.2,138.8 459.9,137 451.8,137" fill="#56cc7b"/><polygon points="451.8,137 459.9,137 467,135.8 458.8,135.8" fill="#67cd6d"/><polygon points="458.8,135.8 467,135.8 472.8,135.7 464.6,135.7" fill="#72cd64"/><polygon points="464.6,135.7 472.8,135.7 478.6,136.5 470.5,136.6" fill="#79cc5f"/><polygon points="470.5,136.6 478.6,136.5 484.5,138.1 476.3,138.4" fill="#7bcc5d"/><polygon points="476.3,138.4 484.5,138.1 490.3,140.7 482.2,141.1" fill="#79cc5e"/><polygon points="482.2,141.1 490.3,140.7 496.2,144 488,144.6" fill="#73cd62"/><polygon points="488,144.6 496.2,144 502,148.1 493.8,148.9" fill="#6acd6a"/><polygon points="493.8,148.9 502,148.1 507.8,152.7 499.7,153.7" fill="#5fcd73"/><polygon points="499.7,153.7 507.8,152.7 513.7,157.8 505.5,159" fill="#53cc7d"/><polygon points="505.5,159 513.7,157.8 519.5,163.2 511.3,164.6" fill="#46cb88"/><polygon points="511.3,164.6 519.5,163.2 525.3,168.9 517.2,170.4" fill="#3ac993"/><polygon points="517.2,170.4 525.3,168.9 531.2,174.7 523,176.3" fill="#33c79d"/><polygon points="523,176.3 531.2,174.7 537,180.6 528.8,182.2" fill="#2cc4a6"/><polygon points="528.8,182.2 537,180.6 542.8,186.5 534.7,188.2" fill="#23c1af"/><polygon points="534.7,188.2 542.8,186.5 548.7,192.3 540.5,194" fill="#16bfb7"/><polygon points="540.5,194 548.7,192.3 554.5,197.9 546.3,199.7" fill="#07bcbf"/><polygon points="546.3,199.7 554.5,197.9 560.3,203.5 552.2,205.3" fill="#00b9c6"/><polygon points="552.2,205.3 560.3,203.5 566.2,208.8 558,210.6" fill="#03b7cc"/><polygon points="558,210.6 566.2,208.8 572,213.9 563.8,215.7" fill="#0bb4d2"/><polygon points="324.4,196.4 332.5,195 338.2,193.8 330.1,195.2" fill="#4740e3"/><polygon points="330.1,195.2 338.2,193.8 343.9,192.3 335.7,193.8" fill="#4747eb"/><polygon points="335.7,193.8 343.9,192.3 349.6,190.6 341.4,192" fill="#484ef1"/><polygon points="341.4,192 349.6,190.6 355.2,188.6 347.1,190" fill="#4756f7"/><polygon points="347.1,190 355.2,188.6 360.9,186.4 352.8,187.8" fill="#465efb"/><polygon points="352.8,187.8 360.9,186.4 366.6,183.9 358.4,185.2" fill="#4367fd"/><polygon points="358.4,185.2 366.6,183.9 372.3,181.2 364.1,182.5" fill="#3d71ff"/><polygon points="364.1,182.5 372.3,181.2 377.9,178.3 369.8,179.5" fill="#327cfc"/><polygon points="369.8,179.5 377.9,178.3 383.6,175.2 375.5,176.3" fill="#2e86f8"/><polygon points="375.5,176.3 383.6,175.2 389.3,172 381.2,173" fill="#2c90f0"/><polygon points="381.2,173 389.3,172 395,168.5 386.8,169.4" fill="#2699e9"/><polygon points="386.8,169.4 395,168.5 400.7,165 392.5,165.8" fill="#22a2e4"/><polygon points="392.5,165.8 400.7,165 406.3,161.4 398.2,162.1" fill="#1babde"/><polygon points="398.2,162.1 406.3,161.4 412,157.7 403.9,158.3" fill="#0eb3d4"/><polygon points="403.9,158.3 412,157.7 417.7,154.1 409.5,154.5" fill="#00b9c8"/><polygon points="409.5,154.5 417.7,154.1 423.4,150.5 415.2,150.9" fill="#0fbeba"/><polygon points="415.2,150.9 423.4,150.5 429,147.1 420.9,147.3" fill="#26c2ad"/><polygon points="420.9,147.3 429,147.1 434.7,143.9 426.6,144.1" fill="#31c69f"/><polygon points="426.6,144.1 434.7,143.9 440.4,141.1 432.2,141.2" fill="#3cc991"/><polygon points="432.2,141.2 440.4,141.1 446.1,138.8 437.9,138.8" fill="#4dcc82"/><polygon points="437.9,138.8 446.1,138.8 451.8,137 443.6,137" fill="#5ecd74"/><polygon points="443.6,137 451.8,137 458.8,135.8 450.7,135.8" fill="#6fcd65"/><polygon points="450.7,135.8 458.8,135.8 464.6,135.7 456.5,135.8" fill="#7bcc5d"/><polygon points="456.5,135.8 464.6,135.7 470.5,136.6 462.3,136.7" fill="#81cc58"/><polygon points="462.3,136.7 470.5,136.6 476.3,138.4 468.2,138.7" fill="#83cc57"/><polygon points="468.2,138.7 476.3,138.4 482.2,141.1 474,141.6" fill="#80cc59"/><polygon points="474,141.6 482.2,141.1 488,144.6 479.8,145.3" fill="#79cc5e"/><polygon points="479.8,145.3 488,144.6 493.8,148.9 485.7,149.7" fill="#6fcd66"/><polygon points="485.7,149.7 493.8,148.9 499.7,153.7 491.5,154.7" fill="#63cd70"/><polygon points="491.5,154.7 499.7,153.7 505.5,159 497.3,160.2" fill="#56cc7b"/><polygon points="497.3,160.2 505.5,159 511.3,164.6 503.1,165.9" fill="#48cb86"/><polygon points="503.1,165.9 511.3,164.6 517.2,170.4 509,171.8" fill="#3cc991"/><polygon points="509,171.8 517.2,170.4 523,176.3 514.8,177.9" fill="#34c79c"/><polygon points="514.8,177.9 523,176.3 528.8,182.2 520.6,183.9" fill="#2dc4a6"/><polygon points="520.6,183.9 528.8,182.2 534.7,188.2 526.5,189.9" fill="#24c1ae"/><polygon points="526.5,189.9 534.7,188.2 540.5,194 532.3,195.8" fill="#16bfb7"/><polygon points="532.3,195.8 540.5,194 546.3,199.7 538.1,201.5" fill="#07bcbf"/><polygon points="538.1,201.5 546.3,199.7 552.2,205.3 544,207" fill="#00bac6"/><polygon points="544,207 552.2,205.3 558,210.6 549.8,212.4" fill="#02b7cc"/><polygon points="549.8,212.4 558,210.6 563.8,215.7 555.6,217.5" fill="#0ab4d2"/><polygon points="316.2,197.8 324.4,196.4 330.1,195.2 321.9,196.6" fill="#4741e4"/><polygon points="321.9,196.6 330.1,195.2 335.7,193.8 327.6,195.2" fill="#4847ec"/><polygon points="327.6,195.2 335.7,193.8 341.4,192 333.3,193.4" fill="#484ff2"/><polygon points="333.3,193.4 341.4,192 347.1,190 339,191.4" fill="#4757f7"/><polygon points="339,191.4 347.1,190 352.8,187.8 344.6,189.1" fill="#465ffb"/><polygon points="344.6,189.1 352.8,187.8 358.4,185.2 350.3,186.5" fill="#4368fe"/><polygon points="350.3,186.5 358.4,185.2 364.1,182.5 356,183.7" fill="#3b72ff"/><polygon points="356,183.7 364.1,182.5 369.8,179.5 361.7,180.6" fill="#317dfc"/><polygon points="361.7,180.6 369.8,179.5 375.5,176.3 367.3,177.4" fill="#2d87f7"/><polygon points="367.3,177.4 375.5,176.3 381.2,173 373,173.9" fill="#2b91ef"/><polygon points="373,173.9 381.2,173 386.8,169.4 378.7,170.3" fill="#259be8"/><polygon points="378.7,170.3 386.8,169.4 392.5,165.8 384.4,166.6" fill="#20a4e3"/><polygon points="384.4,166.6 392.5,165.8 398.2,162.1 390,162.7" fill="#19addc"/><polygon points="390,162.7 398.2,162.1 403.9,158.3 395.7,158.8" fill="#09b4d1"/><polygon points="395.7,158.8 403.9,158.3 409.5,154.5 401.4,155" fill="#01bac4"/><polygon points="401.4,155 409.5,154.5 415.2,150.9 407.1,151.2" fill="#16bfb7"/><polygon points="407.1,151.2 415.2,150.9 420.9,147.3 412.7,147.5" fill="#2ac3a9"/><polygon points="412.7,147.5 420.9,147.3 426.6,144.1 418.4,144.2" fill="#35c79b"/><polygon points="418.4,144.2 426.6,144.1 432.2,141.2 424.1,141.2" fill="#42ca8b"/><polygon points="424.1,141.2 432.2,141.2 437.9,138.8 429.8,138.7" fill="#55cc7c"/><polygon points="429.8,138.7 437.9,138.8 443.6,137 435.4,136.9" fill="#66cd6d"/><polygon points="435.4,136.9 443.6,137 450.7,135.8 442.5,135.7" fill="#79cc5e"/><polygon points="442.5,135.7 450.7,135.8 456.5,135.8 448.3,135.8" fill="#84cc56"/><polygon points="448.3,135.8 456.5,135.8 462.3,136.7 454.2,136.8" fill="#8acb52"/><polygon points="454.2,136.8 462.3,136.7 468.2,138.7 460,139" fill="#8bcb51"/><polygon points="460,139 468.2,138.7 474,141.6 465.8,142" fill="#87cb54"/><polygon points="465.8,142 474,141.6 479.8,145.3 471.6,145.9" fill="#80cc59"/><polygon points="471.6,145.9 479.8,145.3 485.7,149.7 477.5,150.6" fill="#74cd62"/><polygon points="477.5,150.6 485.7,149.7 491.5,154.7 483.3,155.8" fill="#67cd6c"/><polygon points="483.3,155.8 491.5,154.7 497.3,160.2 489.1,161.4" fill="#59cc78"/><polygon points="489.1,161.4 497.3,160.2 503.1,165.9 495,167.3" fill="#4acb84"/><polygon points="495,167.3 503.1,165.9 509,171.8 500.8,173.3" fill="#3dca90"/><polygon points="500.8,173.3 509,171.8 514.8,177.9 506.6,179.4" fill="#34c79b"/><polygon points="506.6,179.4 514.8,177.9 520.6,183.9 512.5,185.5" fill="#2ec4a5"/><polygon points="512.5,185.5 520.6,183.9 526.5,189.9 518.3,191.6" fill="#25c2ae"/><polygon points="518.3,191.6 526.5,189.9 532.3,195.8 524.1,197.5" fill="#17bfb6"/><polygon points="524.1,197.5 532.3,195.8 538.1,201.5 530,203.3" fill="#08bcbe"/><polygon points="530,203.3 538.1,201.5 544,207 535.8,208.8" fill="#01bac5"/><polygon points="535.8,208.8 544,207 549.8,212.4 541.6,214.2" fill="#02b7cc"/><polygon points="541.6,214.2 549.8,212.4 555.6,217.5 547.5,219.2" fill="#0ab4d1"/><polygon points="308.1,199.2 316.2,197.8 321.9,196.6 313.8,198" fill="#4742e6"/><polygon points="313.8,198 321.9,196.6 327.6,195.2 319.5,196.5" fill="#4849ed"/><polygon points="319.5,196.5 327.6,195.2 333.3,193.4 325.1,194.7" fill="#4850f3"/><polygon points="325.1,194.7 333.3,193.4 339,191.4 330.8,192.7" fill="#4758f8"/><polygon points="330.8,192.7 339,191.4 344.6,189.1 336.5,190.3" fill="#4660fc"/><polygon points="336.5,190.3 344.6,189.1 350.3,186.5 342.2,187.7" fill="#426afe"/><polygon points="342.2,187.7 350.3,186.5 356,183.7 347.8,184.8" fill="#3a74ff"/><polygon points="347.8,184.8 356,183.7 361.7,180.6 353.5,181.7" fill="#307ffb"/><polygon points="353.5,181.7 361.7,180.6 367.3,177.4 359.2,178.4" fill="#2d89f5"/><polygon points="359.2,178.4 367.3,177.4 373,173.9 364.9,174.9" fill="#2a93ee"/><polygon points="364.9,174.9 373,173.9 378.7,170.3 370.5,171.1" fill="#259ce7"/><polygon points="370.5,171.1 378.7,170.3 384.4,166.6 376.2,167.3" fill="#1fa6e2"/><polygon points="376.2,167.3 384.4,166.6 390,162.7 381.9,163.4" fill="#17aeda"/><polygon points="381.9,163.4 390,162.7 395.7,158.8 387.6,159.4" fill="#05b6ce"/><polygon points="387.6,159.4 395.7,158.8 401.4,155 393.2,155.4" fill="#04bbc1"/><polygon points="393.2,155.4 401.4,155 407.1,151.2 398.9,151.4" fill="#1dc0b3"/><polygon points="398.9,151.4 407.1,151.2 412.7,147.5 404.6,147.7" fill="#2ec4a5"/><polygon points="404.6,147.7 412.7,147.5 418.4,144.2 410.3,144.2" fill="#38c895"/><polygon points="410.3,144.2 418.4,144.2 424.1,141.2 415.9,141.1" fill="#49cb85"/><polygon points="415.9,141.1 424.1,141.2 429.8,138.7 421.6,138.6" fill="#5dcd75"/><polygon points="421.6,138.6 429.8,138.7 435.4,136.9 427.3,136.7" fill="#70cd65"/><polygon points="427.3,136.7 435.4,136.9 442.5,135.7 434.3,135.6" fill="#83cc57"/><polygon points="434.3,135.6 442.5,135.7 448.3,135.8 440.2,135.7" fill="#8dcb4f"/><polygon points="440.2,135.7 448.3,135.8 454.2,136.8 446,136.9" fill="#93ca4b"/><polygon points="446,136.9 454.2,136.8 460,139 451.8,139.2" fill="#93ca4b"/><polygon points="451.8,139.2 460,139 465.8,142 457.7,142.5" fill="#8ecb4e"/><polygon points="457.7,142.5 465.8,142 471.6,145.9 463.5,146.6" fill="#86cb55"/><polygon points="463.5,146.6 471.6,145.9 477.5,150.6 469.3,151.4" fill="#7acc5e"/><polygon points="469.3,151.4 477.5,150.6 483.3,155.8 475.1,156.8" fill="#6bcd69"/><polygon points="475.1,156.8 483.3,155.8 489.1,161.4 481,162.6" fill="#5ccc76"/><polygon points="481,162.6 489.1,161.4 495,167.3 486.8,168.6" fill="#4ccc82"/><polygon points="486.8,168.6 495,167.3 500.8,173.3 492.6,174.8" fill="#3eca8f"/><polygon points="492.6,174.8 500.8,173.3 506.6,179.4 498.5,181" fill="#35c79a"/><polygon points="498.5,181 506.6,179.4 512.5,185.5 504.3,187.2" fill="#2ec4a4"/><polygon points="504.3,187.2 512.5,185.5 518.3,191.6 510.1,193.3" fill="#25c2ad"/><polygon points="510.1,193.3 518.3,191.6 524.1,197.5 516,199.3" fill="#18bfb6"/><polygon points="516,199.3 524.1,197.5 530,203.3 521.8,205" fill="#09bdbe"/><polygon points="521.8,205 530,203.3 535.8,208.8 527.6,210.6" fill="#01bac5"/><polygon points="527.6,210.6 535.8,208.8 541.6,214.2 533.4,215.9" fill="#02b7cb"/><polygon points="533.4,215.9 541.6,214.2 547.5,219.2 539.3,221" fill="#09b4d1"/><polygon points="300,200.5 308.1,199.2 313.8,198 305.7,199.3" fill="#4743e7"/><polygon points="305.7,199.3 313.8,198 319.5,196.5 311.3,197.8" fill="#484aee"/><polygon points="311.3,197.8 319.5,196.5 325.1,194.7 317,196" fill="#4851f3"/><polygon points="317,196 325.1,194.7 330.8,192.7 322.7,193.9" fill="#4759f8"/><polygon points="322.7,193.9 330.8,192.7 336.5,190.3 328.3,191.5" fill="#4562fc"/><polygon points="328.3,191.5 336.5,190.3 342.2,187.7 334,188.9" fill="#416bfe"/><polygon points="334,188.9 342.2,187.7 347.8,184.8 339.7,185.9" fill="#3876fe"/><polygon points="339.7,185.9 347.8,184.8 353.5,181.7 345.4,182.8" fill="#2f80fa"/><polygon points="345.4,182.8 353.5,181.7 359.2,178.4 351,179.3" fill="#2d8bf4"/><polygon points="351,179.3 359.2,178.4 364.9,174.9 356.7,175.7" fill="#2995ed"/><polygon points="356.7,175.7 364.9,174.9 370.5,171.1 362.4,171.9" fill="#249ee6"/><polygon points="362.4,171.9 370.5,171.1 376.2,167.3 368.1,168" fill="#1ea7e1"/><polygon points="368.1,168 376.2,167.3 381.9,163.4 373.7,163.9" fill="#14b0d8"/><polygon points="373.7,163.9 381.9,163.4 387.6,159.4 379.4,159.8" fill="#02b7cb"/><polygon points="379.4,159.8 387.6,159.4 393.2,155.4 385.1,155.7" fill="#09bdbe"/><polygon points="385.1,155.7 393.2,155.4 398.9,151.4 390.8,151.7" fill="#23c1af"/><polygon points="390.8,151.7 398.9,151.4 404.6,147.7 396.4,147.8" fill="#31c6a0"/><polygon points="396.4,147.8 404.6,147.7 410.3,144.2 402.1,144.2" fill="#3dca90"/><polygon points="402.1,144.2 410.3,144.2 415.9,141.1 407.8,141.1" fill="#52cc7e"/><polygon points="407.8,141.1 415.9,141.1 421.6,138.6 413.4,138.5" fill="#66cd6d"/><polygon points="413.4,138.5 421.6,138.6 427.3,136.7 419.1,136.6" fill="#7acc5e"/><polygon points="419.1,136.6 427.3,136.7 434.3,135.6 426.2,135.5" fill="#8dcb50"/><polygon points="426.2,135.5 434.3,135.6 440.2,135.7 432,135.7" fill="#97ca48"/><polygon points="432,135.7 440.2,135.7 446,136.9 437.8,137" fill="#9bc944"/><polygon points="437.8,137 446,136.9 451.8,139.2 443.7,139.5" fill="#9ac945"/><polygon points="443.7,139.5 451.8,139.2 457.7,142.5 449.5,142.9" fill="#95ca49"/><polygon points="449.5,142.9 457.7,142.5 463.5,146.6 455.3,147.3" fill="#8ccb50"/><polygon points="455.3,147.3 463.5,146.6 469.3,151.4 461.1,152.3" fill="#7fcc5a"/><polygon points="461.1,152.3 469.3,151.4 475.1,156.8 467,157.8" fill="#6fcd66"/><polygon points="467,157.8 475.1,156.8 481,162.6 472.8,163.8" fill="#5fcd73"/><polygon points="472.8,163.8 481,162.6 486.8,168.6 478.6,169.9" fill="#4fcc81"/><polygon points="478.6,169.9 486.8,168.6 492.6,174.8 484.5,176.2" fill="#40ca8d"/><polygon points="484.5,176.2 492.6,174.8 498.5,181 490.3,182.5" fill="#36c799"/><polygon points="490.3,182.5 498.5,181 504.3,187.2 496.1,188.8" fill="#2fc5a4"/><polygon points="496.1,188.8 504.3,187.2 510.1,193.3 501.9,195" fill="#26c2ad"/><polygon points="501.9,195 510.1,193.3 516,199.3 507.8,201" fill="#19bfb6"/><polygon points="507.8,201 516,199.3 521.8,205 513.6,206.8" fill="#09bdbe"/><polygon points="513.6,206.8 521.8,205 527.6,210.6 519.4,212.4" fill="#01bac5"/><polygon points="519.4,212.4 527.6,210.6 533.4,215.9 525.3,217.7" fill="#02b7cb"/><polygon points="525.3,217.7 533.4,215.9 539.3,221 531.1,222.8" fill="#09b4d1"/><polygon points="291.8,201.8 300,200.5 305.7,199.3 297.5,200.6" fill="#4744e8"/><polygon points="297.5,200.6 305.7,199.3 311.3,197.8 303.2,199.1" fill="#484bef"/><polygon points="303.2,199.1 311.3,197.8 317,196 308.9,197.3" fill="#4852f4"/><polygon points="308.9,197.3 317,196 322.7,193.9 314.5,195.1" fill="#475af9"/><polygon points="314.5,195.1 322.7,193.9 328.3,191.5 320.2,192.7" fill="#4563fd"/><polygon points="320.2,192.7 328.3,191.5 334,188.9 325.9,190" fill="#406dfe"/><polygon points="325.9,190 334,188.9 339.7,185.9 331.5,187" fill="#3677fe"/><polygon points="331.5,187 339.7,185.9 345.4,182.8 337.2,183.8" fill="#2f82f9"/><polygon points="337.2,183.8 345.4,182.8 351,179.3 342.9,180.3" fill="#2d8cf3"/><polygon points="342.9,180.3 351,179.3 356.7,175.7 348.6,176.6" fill="#2796eb"/><polygon points="348.6,176.6 356.7,175.7 362.4,171.9 354.2,172.7" fill="#23a0e5"/><polygon points="354.2,172.7 362.4,171.9 368.1,168 359.9,168.6" fill="#1ca9df"/><polygon points="359.9,168.6 368.1,168 373.7,163.9 365.6,164.5" fill="#10b2d5"/><polygon points="365.6,164.5 373.7,163.9 379.4,159.8 371.3,160.3" fill="#00b8c8"/><polygon points="371.3,160.3 379.4,159.8 385.1,155.7 376.9,156" fill="#10beba"/><polygon points="376.9,156 385.1,155.7 390.8,151.7 382.6,151.9" fill="#28c2ab"/><polygon points="382.6,151.9 390.8,151.7 396.4,147.8 388.3,147.9" fill="#34c79b"/><polygon points="388.3,147.9 396.4,147.8 402.1,144.2 393.9,144.2" fill="#44cb8a"/><polygon points="393.9,144.2 402.1,144.2 407.8,141.1 399.6,141" fill="#5acc77"/><polygon points="399.6,141 407.8,141.1 413.4,138.5 405.3,138.3" fill="#70cd65"/><polygon points="405.3,138.3 413.4,138.5 419.1,136.6 411,136.4" fill="#84cc56"/><polygon points="411,136.4 419.1,136.6 426.2,135.5 418,135.3" fill="#96ca48"/><polygon points="418,135.3 426.2,135.5 432,135.7 423.8,135.6" fill="#a0c941"/><polygon points="423.8,135.6 432,135.7 437.8,137 429.7,137.1" fill="#a4c83e"/><polygon points="429.7,137.1 437.8,137 443.7,139.5 435.5,139.7" fill="#a2c83f"/><polygon points="435.5,139.7 443.7,139.5 449.5,142.9 441.3,143.4" fill="#9cc944"/><polygon points="441.3,143.4 449.5,142.9 455.3,147.3 447.1,147.9" fill="#92ca4c"/><polygon points="447.1,147.9 455.3,147.3 461.1,152.3 453,153.1" fill="#84cc56"/><polygon points="453,153.1 461.1,152.3 467,157.8 458.8,158.9" fill="#73cd63"/><polygon points="458.8,158.9 467,157.8 472.8,163.8 464.6,164.9" fill="#62cd70"/><polygon points="464.6,164.9 472.8,163.8 478.6,169.9 470.5,171.3" fill="#51cc7f"/><polygon points="470.5,171.3 478.6,169.9 484.5,176.2 476.3,177.7" fill="#41ca8c"/><polygon points="476.3,177.7 484.5,176.2 490.3,182.5 482.1,184.1" fill="#36c898"/><polygon points="482.1,184.1 490.3,182.5 496.1,188.8 487.9,190.4" fill="#2fc5a3"/><polygon points="487.9,190.4 496.1,188.8 501.9,195 493.8,196.7" fill="#27c2ac"/><polygon points="493.8,196.7 501.9,195 507.8,201 499.6,202.7" fill="#19bfb5"/><polygon points="499.6,202.7 507.8,201 513.6,206.8 505.4,208.6" fill="#0abdbd"/><polygon points="505.4,208.6 513.6,206.8 519.4,212.4 511.3,214.2" fill="#01bac4"/><polygon points="511.3,214.2 519.4,212.4 525.3,217.7 517.1,219.5" fill="#01b7cb"/><polygon points="517.1,219.5 525.3,217.7 531.1,222.8 522.9,224.6" fill="#08b4d0"/><polygon points="283.7,203.1 291.8,201.8 297.5,200.6 289.4,201.8" fill="#4745e9"/><polygon points="289.4,201.8 297.5,200.6 303.2,199.1 295.1,200.3" fill="#484cf0"/><polygon points="295.1,200.3 303.2,199.1 308.9,197.3 300.7,198.4" fill="#4854f5"/><polygon points="300.7,198.4 308.9,197.3 314.5,195.1 306.4,196.3" fill="#475cfa"/><polygon points="306.4,196.3 314.5,195.1 320.2,192.7 312.1,193.8" fill="#4465fd"/><polygon points="312.1,193.8 320.2,192.7 325.9,190 317.7,191.1" fill="#3f6eff"/><polygon points="317.7,191.1 325.9,190 331.5,187 323.4,188" fill="#3479fd"/><polygon points="323.4,188 331.5,187 337.2,183.8 329.1,184.7" fill="#2e84f9"/><polygon points="329.1,184.7 337.2,183.8 342.9,180.3 334.7,181.2" fill="#2d8ef1"/><polygon points="334.7,181.2 342.9,180.3 348.6,176.6 340.4,177.4" fill="#2698ea"/><polygon points="340.4,177.4 348.6,176.6 354.2,172.7 346.1,173.4" fill="#22a2e4"/><polygon points="346.1,173.4 354.2,172.7 359.9,168.6 351.8,169.3" fill="#1babde"/><polygon points="351.8,169.3 359.9,168.6 365.6,164.5 357.4,165" fill="#0cb3d3"/><polygon points="357.4,165 365.6,164.5 371.3,160.3 363.1,160.7" fill="#01bac5"/><polygon points="363.1,160.7 371.3,160.3 376.9,156 368.8,156.3" fill="#17bfb6"/><polygon points="368.8,156.3 376.9,156 382.6,151.9 374.4,152.1" fill="#2cc4a7"/><polygon points="374.4,152.1 382.6,151.9 388.3,147.9 380.1,148" fill="#38c896"/><polygon points="380.1,148 388.3,147.9 393.9,144.2 385.8,144.2" fill="#4bcb83"/><polygon points="385.8,144.2 393.9,144.2 399.6,141 391.5,140.8" fill="#63cd70"/><polygon points="391.5,140.8 399.6,141 405.3,138.3 397.1,138.1" fill="#7acc5e"/><polygon points="397.1,138.1 405.3,138.3 411,136.4 402.8,136.1" fill="#8ecb4e"/><polygon points="402.8,136.1 411,136.4 418,135.3 409.8,135.1" fill="#a0c841"/><polygon points="409.8,135.1 418,135.3 423.8,135.6 415.7,135.5" fill="#a9c73a"/><polygon points="415.7,135.5 423.8,135.6 429.7,137.1 421.5,137.1" fill="#acc738"/><polygon points="421.5,137.1 429.7,137.1 435.5,139.7 427.3,139.9" fill="#aac73a"/><polygon points="427.3,139.9 435.5,139.7 441.3,143.4 433.2,143.8" fill="#a3c83f"/><polygon points="433.2,143.8 441.3,143.4 447.1,147.9 439,148.5" fill="#98ca47"/><polygon points="439,148.5 447.1,147.9 453,153.1 444.8,154" fill="#89cb52"/><polygon points="444.8,154 453,153.1 458.8,158.9 450.6,159.9" fill="#78cc5f"/><polygon points="450.6,159.9 458.8,158.9 464.6,164.9 456.5,166.1" fill="#65cd6e"/><polygon points="456.5,166.1 464.6,164.9 470.5,171.3 462.3,172.6" fill="#54cc7d"/><polygon points="462.3,172.6 470.5,171.3 476.3,177.7 468.1,179.1" fill="#43cb8a"/><polygon points="468.1,179.1 476.3,177.7 482.1,184.1 473.9,185.6" fill="#37c897"/><polygon points="473.9,185.6 482.1,184.1 487.9,190.4 479.8,192" fill="#30c5a2"/><polygon points="479.8,192 487.9,190.4 493.8,196.7 485.6,198.3" fill="#27c2ac"/><polygon points="485.6,198.3 493.8,196.7 499.6,202.7 491.4,204.4" fill="#1ac0b5"/><polygon points="491.4,204.4 499.6,202.7 505.4,208.6 497.2,210.3" fill="#0bbdbd"/><polygon points="497.2,210.3 505.4,208.6 511.3,214.2 503.1,215.9" fill="#01bac4"/><polygon points="503.1,215.9 511.3,214.2 517.1,219.5 508.9,221.3" fill="#01b7cb"/><polygon points="508.9,221.3 517.1,219.5 522.9,224.6 514.7,226.4" fill="#08b5d0"/><polygon points="275.6,204.3 283.7,203.1 289.4,201.8 281.2,203" fill="#4746eb"/><polygon points="281.2,203 289.4,201.8 295.1,200.3 286.9,201.5" fill="#484df1"/><polygon points="286.9,201.5 295.1,200.3 300.7,198.4 292.6,199.6" fill="#4855f6"/><polygon points="292.6,199.6 300.7,198.4 306.4,196.3 298.3,197.4" fill="#465dfb"/><polygon points="298.3,197.4 306.4,196.3 312.1,193.8 303.9,194.9" fill="#4466fd"/><polygon points="303.9,194.9 312.1,193.8 317.7,191.1 309.6,192.1" fill="#3d70ff"/><polygon points="309.6,192.1 317.7,191.1 323.4,188 315.3,189" fill="#337bfc"/><polygon points="315.3,189 323.4,188 329.1,184.7 320.9,185.6" fill="#2e86f8"/><polygon points="320.9,185.6 329.1,184.7 334.7,181.2 326.6,182" fill="#2c90f0"/><polygon points="326.6,182 334.7,181.2 340.4,177.4 332.3,178.1" fill="#269ae9"/><polygon points="332.3,178.1 340.4,177.4 346.1,173.4 337.9,174.1" fill="#21a4e3"/><polygon points="337.9,174.1 346.1,173.4 351.8,169.3 343.6,169.8" fill="#19addc"/><polygon points="343.6,169.8 351.8,169.3 357.4,165 349.3,165.5" fill="#07b5d0"/><polygon points="349.3,165.5 357.4,165 363.1,160.7 354.9,161" fill="#03bbc2"/><polygon points="354.9,161 363.1,160.7 368.8,156.3 360.6,156.6" fill="#1ec0b2"/><polygon points="360.6,156.6 368.8,156.3 374.4,152.1 366.3,152.2" fill="#2fc5a2"/><polygon points="366.3,152.2 374.4,152.1 380.1,148 372,148" fill="#3dc990"/><polygon points="372,148 380.1,148 385.8,144.2 377.6,144.1" fill="#54cc7d"/><polygon points="377.6,144.1 385.8,144.2 391.5,140.8 383.3,140.6" fill="#6ccd68"/><polygon points="383.3,140.6 391.5,140.8 397.1,138.1 389,137.8" fill="#85cc56"/><polygon points="389,137.8 397.1,138.1 402.8,136.1 394.6,135.9" fill="#98c946"/><polygon points="394.6,135.9 402.8,136.1 409.8,135.1 401.7,134.9" fill="#aac73a"/><polygon points="401.7,134.9 409.8,135.1 415.7,135.5 407.5,135.4" fill="#b2c635"/><polygon points="407.5,135.4 415.7,135.5 421.5,137.1 413.3,137.2" fill="#b4c533"/><polygon points="413.3,137.2 421.5,137.1 427.3,139.9 419.2,140.2" fill="#b1c635"/><polygon points="419.2,140.2 427.3,139.9 433.2,143.8 425,144.2" fill="#aac73a"/><polygon points="425,144.2 433.2,143.8 439,148.5 430.8,149.2" fill="#9ec943"/><polygon points="430.8,149.2 439,148.5 444.8,154 436.6,154.8" fill="#8ecb4e"/><polygon points="436.6,154.8 444.8,154 450.6,159.9 442.5,160.9" fill="#7ccc5c"/><polygon points="442.5,160.9 450.6,159.9 456.5,166.1 448.3,167.3" fill="#68cd6b"/><polygon points="448.3,167.3 456.5,166.1 462.3,172.6 454.1,173.9" fill="#56cc7a"/><polygon points="454.1,173.9 462.3,172.6 468.1,179.1 459.9,180.5" fill="#45cb89"/><polygon points="459.9,180.5 468.1,179.1 473.9,185.6 465.8,187.1" fill="#38c896"/><polygon points="465.8,187.1 473.9,185.6 479.8,192 471.6,193.6" fill="#30c5a1"/><polygon points="471.6,193.6 479.8,192 485.6,198.3 477.4,199.9" fill="#28c2ab"/><polygon points="477.4,199.9 485.6,198.3 491.4,204.4 483.2,206.1" fill="#1bc0b4"/><polygon points="483.2,206.1 491.4,204.4 497.2,210.3 489.1,212" fill="#0cbdbc"/><polygon points="489.1,212 497.2,210.3 503.1,215.9 494.9,217.7" fill="#01bac4"/><polygon points="494.9,217.7 503.1,215.9 508.9,221.3 500.7,223.1" fill="#01b8ca"/><polygon points="500.7,223.1 508.9,221.3 514.7,226.4 506.5,228.1" fill="#07b5d0"/><polygon points="267.4,205.4 275.6,204.3 281.2,203 273.1,204.2" fill="#4848ec"/><polygon points="273.1,204.2 281.2,203 286.9,201.5 278.8,202.6" fill="#484ff2"/><polygon points="278.8,202.6 286.9,201.5 292.6,199.6 284.4,200.7" fill="#4757f7"/><polygon points="284.4,200.7 292.6,199.6 298.3,197.4 290.1,198.5" fill="#465ffb"/><polygon points="290.1,198.5 298.3,197.4 303.9,194.9 295.8,195.9" fill="#4368fe"/><polygon points="295.8,195.9 303.9,194.9 309.6,192.1 301.4,193.1" fill="#3c72ff"/><polygon points="301.4,193.1 309.6,192.1 315.3,189 307.1,189.9" fill="#317dfc"/><polygon points="307.1,189.9 315.3,189 320.9,185.6 312.8,186.5" fill="#2d87f7"/><polygon points="312.8,186.5 320.9,185.6 326.6,182 318.5,182.8" fill="#2b92ee"/><polygon points="318.5,182.8 326.6,182 332.3,178.1 324.1,178.9" fill="#259ce7"/><polygon points="324.1,178.9 332.3,178.1 337.9,174.1 329.8,174.7" fill="#1fa5e2"/><polygon points="329.8,174.7 337.9,174.1 343.6,169.8 335.5,170.4" fill="#16afda"/><polygon points="335.5,170.4 343.6,169.8 349.3,165.5 341.1,165.9" fill="#03b6cd"/><polygon points="341.1,165.9 349.3,165.5 354.9,161 346.8,161.4" fill="#08bcbe"/><polygon points="346.8,161.4 354.9,161 360.6,156.6 352.5,156.8" fill="#24c1af"/><polygon points="352.5,156.8 360.6,156.6 366.3,152.2 358.1,152.3" fill="#32c69e"/><polygon points="358.1,152.3 366.3,152.2 372,148 363.8,148" fill="#43ca8b"/><polygon points="363.8,148 372,148 377.6,144.1 369.5,143.9" fill="#5ccc76"/><polygon points="369.5,143.9 377.6,144.1 383.3,140.6 375.1,140.4" fill="#76cc60"/><polygon points="375.1,140.4 383.3,140.6 389,137.8 380.8,137.5" fill="#8fcb4e"/><polygon points="380.8,137.5 389,137.8 394.6,135.9 386.5,135.6" fill="#a3c83f"/><polygon points="386.5,135.6 394.6,135.9 401.7,134.9 393.5,134.6" fill="#b4c534"/><polygon points="393.5,134.6 401.7,134.9 407.5,135.4 399.3,135.2" fill="#bbc42f"/><polygon points="399.3,135.2 407.5,135.4 413.3,137.2 405.2,137.2" fill="#bcc42f"/><polygon points="405.2,137.2 413.3,137.2 419.2,140.2 411,140.4" fill="#b9c431"/><polygon points="411,140.4 419.2,140.2 425,144.2 416.8,144.7" fill="#b0c636"/><polygon points="416.8,144.7 425,144.2 430.8,149.2 422.6,149.8" fill="#a3c83e"/><polygon points="422.6,149.8 430.8,149.2 436.6,154.8 428.5,155.6" fill="#93ca4a"/><polygon points="428.5,155.6 436.6,154.8 442.5,160.9 434.3,161.9" fill="#80cc59"/><polygon points="434.3,161.9 442.5,160.9 448.3,167.3 440.1,168.5" fill="#6ccd68"/><polygon points="440.1,168.5 448.3,167.3 454.1,173.9 445.9,175.2" fill="#59cc78"/><polygon points="445.9,175.2 454.1,173.9 459.9,180.5 451.8,181.9" fill="#47cb87"/><polygon points="451.8,181.9 459.9,180.5 465.8,187.1 457.6,188.6" fill="#39c994"/><polygon points="457.6,188.6 465.8,187.1 471.6,193.6 463.4,195.2" fill="#31c6a0"/><polygon points="463.4,195.2 471.6,193.6 477.4,199.9 469.2,201.6" fill="#29c3aa"/><polygon points="469.2,201.6 477.4,199.9 483.2,206.1 475.1,207.8" fill="#1cc0b3"/><polygon points="475.1,207.8 483.2,206.1 489.1,212 480.9,213.7" fill="#0dbdbc"/><polygon points="480.9,213.7 489.1,212 494.9,217.7 486.7,219.4" fill="#02bac3"/><polygon points="486.7,219.4 494.9,217.7 500.7,223.1 492.5,224.8" fill="#01b8ca"/><polygon points="492.5,224.8 500.7,223.1 506.5,228.1 498.4,229.9" fill="#07b5d0"/><polygon points="259.3,206.5 267.4,205.4 273.1,204.2 265,205.3" fill="#4849ed"/><polygon points="265,205.3 273.1,204.2 278.8,202.6 270.6,203.7" fill="#4850f3"/><polygon points="270.6,203.7 278.8,202.6 284.4,200.7 276.3,201.8" fill="#4758f8"/><polygon points="276.3,201.8 284.4,200.7 290.1,198.5 282,199.5" fill="#4660fc"/><polygon points="282,199.5 290.1,198.5 295.8,195.9 287.6,196.9" fill="#426afe"/><polygon points="287.6,196.9 295.8,195.9 301.4,193.1 293.3,194" fill="#3a74ff"/><polygon points="293.3,194 301.4,193.1 307.1,189.9 299,190.8" fill="#307ffb"/><polygon points="299,190.8 307.1,189.9 312.8,186.5 304.6,187.3" fill="#2d89f5"/><polygon points="304.6,187.3 312.8,186.5 318.5,182.8 310.3,183.6" fill="#2994ed"/><polygon points="310.3,183.6 318.5,182.8 324.1,178.9 316,179.6" fill="#249ee6"/><polygon points="316,179.6 324.1,178.9 329.8,174.7 321.6,175.3" fill="#1ea7e1"/><polygon points="321.6,175.3 329.8,174.7 335.5,170.4 327.3,170.9" fill="#13b0d7"/><polygon points="327.3,170.9 335.5,170.4 341.1,165.9 333,166.3" fill="#01b8ca"/><polygon points="333,166.3 341.1,165.9 346.8,161.4 338.6,161.7" fill="#0fbebb"/><polygon points="338.6,161.7 346.8,161.4 352.5,156.8 344.3,157" fill="#29c3aa"/><polygon points="344.3,157 352.5,156.8 358.1,152.3 350,152.4" fill="#36c899"/><polygon points="350,152.4 358.1,152.3 363.8,148 355.6,147.9" fill="#4acb84"/><polygon points="355.6,147.9 363.8,148 369.5,143.9 361.3,143.8" fill="#65cd6e"/><polygon points="361.3,143.8 369.5,143.9 375.1,140.4 367,140.1" fill="#81cc59"/><polygon points="367,140.1 375.1,140.4 380.8,137.5 372.7,137.2" fill="#99c946"/><polygon points="372.7,137.2 380.8,137.5 386.5,135.6 378.3,135.2" fill="#adc638"/><polygon points="378.3,135.2 386.5,135.6 393.5,134.6 385.4,134.3" fill="#bdc32e"/><polygon points="385.4,134.3 393.5,134.6 399.3,135.2 391.2,135" fill="#c4c22b"/><polygon points="391.2,135 399.3,135.2 405.2,137.2 397,137.1" fill="#c4c22a"/><polygon points="397,137.1 405.2,137.2 411,140.4 402.8,140.6" fill="#c0c32d"/><polygon points="402.8,140.6 411,140.4 416.8,144.7 408.7,145.1" fill="#b7c532"/><polygon points="408.7,145.1 416.8,144.7 422.6,149.8 414.5,150.4" fill="#a9c73a"/><polygon points="414.5,150.4 422.6,149.8 428.5,155.6 420.3,156.5" fill="#98ca47"/><polygon points="420.3,156.5 428.5,155.6 434.3,161.9 426.1,162.9" fill="#85cb56"/><polygon points="426.1,162.9 434.3,161.9 440.1,168.5 431.9,169.6" fill="#6fcd65"/><polygon points="431.9,169.6 440.1,168.5 445.9,175.2 437.8,176.4" fill="#5ccc76"/><polygon points="437.8,176.4 445.9,175.2 451.8,181.9 443.6,183.3" fill="#49cb85"/><polygon points="443.6,183.3 451.8,181.9 457.6,188.6 449.4,190.1" fill="#3ac993"/><polygon points="449.4,190.1 457.6,188.6 463.4,195.2 455.2,196.7" fill="#32c69f"/><polygon points="455.2,196.7 463.4,195.2 469.2,201.6 461.1,203.2" fill="#2ac3aa"/><polygon points="461.1,203.2 469.2,201.6 475.1,207.8 466.9,209.4" fill="#1dc0b3"/><polygon points="466.9,209.4 475.1,207.8 480.9,213.7 472.7,215.4" fill="#0ebdbb"/><polygon points="472.7,215.4 480.9,213.7 486.7,219.4 478.5,221.1" fill="#02bbc3"/><polygon points="478.5,221.1 486.7,219.4 492.5,224.8 484.4,226.6" fill="#01b8ca"/><polygon points="484.4,226.6 492.5,224.8 498.4,229.9 490.2,231.7" fill="#06b5cf"/><polygon points="251.2,207.6 259.3,206.5 265,205.3 256.8,206.4" fill="#484bef"/><polygon points="256.8,206.4 265,205.3 270.6,203.7 262.5,204.7" fill="#4852f4"/><polygon points="262.5,204.7 270.6,203.7 276.3,201.8 268.2,202.8" fill="#475af9"/><polygon points="268.2,202.8 276.3,201.8 282,199.5 273.8,200.5" fill="#4562fc"/><polygon points="273.8,200.5 282,199.5 287.6,196.9 279.5,197.9" fill="#416cfe"/><polygon points="279.5,197.9 287.6,196.9 293.3,194 285.2,194.9" fill="#3876fe"/><polygon points="285.2,194.9 293.3,194 299,190.8 290.8,191.7" fill="#2f81fa"/><polygon points="290.8,191.7 299,190.8 304.6,187.3 296.5,188.1" fill="#2d8bf4"/><polygon points="296.5,188.1 304.6,187.3 310.3,183.6 302.2,184.3" fill="#2896ec"/><polygon points="302.2,184.3 310.3,183.6 316,179.6 307.8,180.2" fill="#249fe5"/><polygon points="307.8,180.2 316,179.6 321.6,175.3 313.5,175.9" fill="#1ca9df"/><polygon points="313.5,175.9 321.6,175.3 327.3,170.9 319.2,171.4" fill="#0fb2d5"/><polygon points="319.2,171.4 327.3,170.9 333,166.3 324.8,166.7" fill="#00b9c7"/><polygon points="324.8,166.7 333,166.3 338.6,161.7 330.5,161.9" fill="#16bfb7"/><polygon points="330.5,161.9 338.6,161.7 344.3,157 336.2,157.1" fill="#2dc4a6"/><polygon points="336.2,157.1 344.3,157 350,152.4 341.8,152.4" fill="#3ac993"/><polygon points="341.8,152.4 350,152.4 355.6,147.9 347.5,147.8" fill="#52cc7e"/><polygon points="347.5,147.8 355.6,147.9 361.3,143.8 353.2,143.6" fill="#6ecd66"/><polygon points="353.2,143.6 361.3,143.8 367,140.1 358.8,139.8" fill="#8ccb51"/><polygon points="358.8,139.8 367,140.1 372.7,137.2 364.5,136.8" fill="#a4c83e"/><polygon points="364.5,136.8 372.7,137.2 378.3,135.2 370.2,134.8" fill="#b7c532"/><polygon points="370.2,134.8 378.3,135.2 385.4,134.3 377.2,133.9" fill="#c6c22a"/><polygon points="377.2,133.9 385.4,134.3 391.2,135 383,134.8" fill="#ccc028"/><polygon points="383,134.8 391.2,135 397,137.1 388.8,137.1" fill="#ccc028"/><polygon points="388.8,137.1 397,137.1 402.8,140.6 394.7,140.7" fill="#c7c129"/><polygon points="394.7,140.7 402.8,140.6 408.7,145.1 400.5,145.5" fill="#bdc32e"/><polygon points="400.5,145.5 408.7,145.1 414.5,150.4 406.3,151.1" fill="#afc636"/><polygon points="406.3,151.1 414.5,150.4 420.3,156.5 412.1,157.3" fill="#9dc943"/><polygon points="412.1,157.3 420.3,156.5 426.1,162.9 418,163.9" fill="#89cb52"/><polygon points="418,163.9 426.1,162.9 431.9,169.6 423.8,170.7" fill="#73cd62"/><polygon points="423.8,170.7 431.9,169.6 437.8,176.4 429.6,177.7" fill="#5ecd74"/><polygon points="429.6,177.7 437.8,176.4 443.6,183.3 435.4,184.6" fill="#4bcb83"/><polygon points="435.4,184.6 443.6,183.3 449.4,190.1 441.2,191.5" fill="#3bc992"/><polygon points="441.2,191.5 449.4,190.1 455.2,196.7 447.1,198.2" fill="#32c69e"/><polygon points="447.1,198.2 455.2,196.7 461.1,203.2 452.9,204.7" fill="#2ac3a9"/><polygon points="452.9,204.7 461.1,203.2 466.9,209.4 458.7,211" fill="#1ec0b2"/><polygon points="458.7,211 466.9,209.4 472.7,215.4 464.5,217.1" fill="#0fbebb"/><polygon points="464.5,217.1 472.7,215.4 478.5,221.1 470.3,222.8" fill="#02bbc2"/><polygon points="470.3,222.8 478.5,221.1 484.4,226.6 476.2,228.3" fill="#01b8c9"/><polygon points="476.2,228.3 484.4,226.6 490.2,231.7 482,233.4" fill="#06b5cf"/><polygon points="243,208.7 251.2,207.6 256.8,206.4 248.7,207.4" fill="#484cf0"/><polygon points="248.7,207.4 256.8,206.4 262.5,204.7 254.4,205.8" fill="#4854f5"/><polygon points="254.4,205.8 262.5,204.7 268.2,202.8 260,203.8" fill="#475bfa"/><polygon points="260,203.8 268.2,202.8 273.8,200.5 265.7,201.4" fill="#4564fd"/><polygon points="265.7,201.4 273.8,200.5 279.5,197.9 271.4,198.8" fill="#406dfe"/><polygon points="271.4,198.8 279.5,197.9 285.2,194.9 277,195.8" fill="#3578fd"/><polygon points="277,195.8 285.2,194.9 290.8,191.7 282.7,192.5" fill="#2e83f9"/><polygon points="282.7,192.5 290.8,191.7 296.5,188.1 288.4,188.9" fill="#2d8df2"/><polygon points="288.4,188.9 296.5,188.1 302.2,184.3 294,185" fill="#2797ea"/><polygon points="294,185 302.2,184.3 307.8,180.2 299.7,180.8" fill="#22a1e4"/><polygon points="299.7,180.8 307.8,180.2 313.5,175.9 305.3,176.4" fill="#1babde"/><polygon points="305.3,176.4 313.5,175.9 319.2,171.4 311,171.8" fill="#0ab4d2"/><polygon points="311,171.8 319.2,171.4 324.8,166.7 316.7,167.1" fill="#02bbc3"/><polygon points="316.7,167.1 324.8,166.7 330.5,161.9 322.3,162.2" fill="#1dc0b3"/><polygon points="322.3,162.2 330.5,161.9 336.2,157.1 328,157.3" fill="#30c5a2"/><polygon points="328,157.3 336.2,157.1 341.8,152.4 333.7,152.4" fill="#3fca8e"/><polygon points="333.7,152.4 341.8,152.4 347.5,147.8 339.3,147.7" fill="#5bcc77"/><polygon points="339.3,147.7 347.5,147.8 353.2,143.6 345,143.3" fill="#79cc5e"/><polygon points="345,143.3 353.2,143.6 358.8,139.8 350.7,139.5" fill="#96ca48"/><polygon points="350.7,139.5 358.8,139.8 364.5,136.8 356.3,136.4" fill="#aec637"/><polygon points="356.3,136.4 364.5,136.8 370.2,134.8 362,134.4" fill="#c1c32c"/><polygon points="362,134.4 370.2,134.8 377.2,133.9 369,133.6" fill="#cfc027"/><polygon points="369,133.6 377.2,133.9 383,134.8 374.9,134.6" fill="#d4bf27"/><polygon points="374.9,134.6 383,134.8 388.8,137.1 380.7,137" fill="#d3bf27"/><polygon points="380.7,137 388.8,137.1 394.7,140.7 386.5,140.9" fill="#cec027"/><polygon points="386.5,140.9 394.7,140.7 400.5,145.5 392.3,145.9" fill="#c3c22b"/><polygon points="392.3,145.9 400.5,145.5 406.3,151.1 398.1,151.7" fill="#b5c533"/><polygon points="398.1,151.7 406.3,151.1 412.1,157.3 404,158.1" fill="#a2c83f"/><polygon points="404,158.1 412.1,157.3 418,163.9 409.8,164.9" fill="#8ecb4f"/><polygon points="409.8,164.9 418,163.9 423.8,170.7 415.6,171.9" fill="#77cc60"/><polygon points="415.6,171.9 423.8,170.7 429.6,177.7 421.4,178.9" fill="#61cd71"/><polygon points="421.4,178.9 429.6,177.7 435.4,184.6 427.2,186" fill="#4ecc82"/><polygon points="427.2,186 435.4,184.6 441.2,191.5 433.1,192.9" fill="#3dc990"/><polygon points="433.1,192.9 441.2,191.5 447.1,198.2 438.9,199.7" fill="#33c79d"/><polygon points="438.9,199.7 447.1,198.2 452.9,204.7 444.7,206.3" fill="#2bc3a8"/><polygon points="444.7,206.3 452.9,204.7 458.7,211 450.5,212.6" fill="#20c1b1"/><polygon points="450.5,212.6 458.7,211 464.5,217.1 456.3,218.7" fill="#10beba"/><polygon points="456.3,218.7 464.5,217.1 470.3,222.8 462.2,224.5" fill="#03bbc2"/><polygon points="462.2,224.5 470.3,222.8 476.2,228.3 468,230" fill="#00b8c9"/><polygon points="468,230 476.2,228.3 482,233.4 473.8,235.2" fill="#05b5cf"/><polygon points="234.9,209.7 243,208.7 248.7,207.4 240.6,208.4" fill="#484ef1"/><polygon points="240.6,208.4 248.7,207.4 254.4,205.8 246.2,206.7" fill="#4855f6"/><polygon points="246.2,206.7 254.4,205.8 260,203.8 251.9,204.7" fill="#465dfa"/><polygon points="251.9,204.7 260,203.8 265.7,201.4 257.6,202.4" fill="#4466fd"/><polygon points="257.6,202.4 265.7,201.4 271.4,198.8 263.2,199.7" fill="#3e70ff"/><polygon points="263.2,199.7 271.4,198.8 277,195.8 268.9,196.6" fill="#337afd"/><polygon points="268.9,196.6 277,195.8 282.7,192.5 274.5,193.3" fill="#2e85f8"/><polygon points="274.5,193.3 282.7,192.5 288.4,188.9 280.2,189.6" fill="#2c8ff0"/><polygon points="280.2,189.6 288.4,188.9 294,185 285.9,185.7" fill="#2699e9"/><polygon points="285.9,185.7 294,185 299.7,180.8 291.5,181.4" fill="#21a3e3"/><polygon points="291.5,181.4 299.7,180.8 305.3,176.4 297.2,177" fill="#19addc"/><polygon points="297.2,177 305.3,176.4 311,171.8 302.9,172.3" fill="#06b5cf"/><polygon points="302.9,172.3 311,171.8 316.7,167.1 308.5,167.4" fill="#06bcc0"/><polygon points="308.5,167.4 316.7,167.1 322.3,162.2 314.2,162.4" fill="#23c1af"/><polygon points="314.2,162.4 322.3,162.2 328,157.3 319.9,157.4" fill="#33c69d"/><polygon points="319.9,157.4 328,157.3 333.7,152.4 325.5,152.4" fill="#46cb88"/><polygon points="325.5,152.4 333.7,152.4 339.3,147.7 331.2,147.6" fill="#64cd6f"/><polygon points="331.2,147.6 339.3,147.7 345,143.3 336.8,143.1" fill="#84cc57"/><polygon points="336.8,143.1 345,143.3 350.7,139.5 342.5,139.1" fill="#a1c840"/><polygon points="342.5,139.1 350.7,139.5 356.3,136.4 348.2,136" fill="#b9c431"/><polygon points="348.2,136 356.3,136.4 362,134.4 353.8,133.9" fill="#cac128"/><polygon points="353.8,133.9 362,134.4 369,133.6 360.9,133.2" fill="#d8be28"/><polygon points="360.9,133.2 369,133.6 374.9,134.6 366.7,134.3" fill="#dcbd29"/><polygon points="366.7,134.3 374.9,134.6 380.7,137 372.5,137" fill="#dbbd28"/><polygon points="372.5,137 380.7,137 386.5,140.9 378.3,141.1" fill="#d4bf27"/><polygon points="378.3,141.1 386.5,140.9 392.3,145.9 384.2,146.3" fill="#c9c128"/><polygon points="384.2,146.3 392.3,145.9 398.1,151.7 390,152.3" fill="#bac430"/><polygon points="390,152.3 398.1,151.7 404,158.1 395.8,158.9" fill="#a8c73b"/><polygon points="395.8,158.9 404,158.1 409.8,164.9 401.6,165.8" fill="#92ca4b"/><polygon points="401.6,165.8 409.8,164.9 415.6,171.9 407.4,173" fill="#7bcc5d"/><polygon points="407.4,173 415.6,171.9 421.4,178.9 413.2,180.1" fill="#64cd6f"/><polygon points="413.2,180.1 421.4,178.9 427.2,186 419.1,187.3" fill="#50cc80"/><polygon points="419.1,187.3 427.2,186 433.1,192.9 424.9,194.3" fill="#3eca8f"/><polygon points="424.9,194.3 433.1,192.9 438.9,199.7 430.7,201.2" fill="#34c79c"/><polygon points="430.7,201.2 438.9,199.7 444.7,206.3 436.5,207.8" fill="#2cc4a7"/><polygon points="436.5,207.8 444.7,206.3 450.5,212.6 442.3,214.2" fill="#21c1b1"/><polygon points="442.3,214.2 450.5,212.6 456.3,218.7 448.2,220.3" fill="#11beb9"/><polygon points="448.2,220.3 456.3,218.7 462.2,224.5 454,226.2" fill="#04bbc1"/><polygon points="454,226.2 462.2,224.5 468,230 459.8,231.7" fill="#00b8c8"/><polygon points="459.8,231.7 468,230 473.8,235.2 465.6,236.9" fill="#05b6ce"/><polygon points="226.8,210.6 234.9,209.7 240.6,208.4 232.4,209.3" fill="#4850f3"/><polygon points="232.4,209.3 240.6,208.4 246.2,206.7 238.1,207.6" fill="#4757f7"/><polygon points="238.1,207.6 246.2,206.7 251.9,204.7 243.7,205.6" fill="#465ffb"/><polygon points="243.7,205.6 251.9,204.7 257.6,202.4 249.4,203.2" fill="#4368fe"/><polygon points="249.4,203.2 257.6,202.4 263.2,199.7 255.1,200.5" fill="#3c72ff"/><polygon points="255.1,200.5 263.2,199.7 268.9,196.6 260.7,197.4" fill="#317dfc"/><polygon points="260.7,197.4 268.9,196.6 274.5,193.3 266.4,194" fill="#2e87f7"/><polygon points="266.4,194 274.5,193.3 280.2,189.6 272.1,190.3" fill="#2b91ef"/><polygon points="272.1,190.3 280.2,189.6 285.9,185.7 277.7,186.3" fill="#259be7"/><polygon points="277.7,186.3 285.9,185.7 291.5,181.4 283.4,182" fill="#1fa5e2"/><polygon points="283.4,182 291.5,181.4 297.2,177 289.1,177.4" fill="#16afd9"/><polygon points="289.1,177.4 297.2,177 302.9,172.3 294.7,172.7" fill="#02b7cc"/><polygon points="294.7,172.7 302.9,172.3 308.5,167.4 300.4,167.7" fill="#0cbdbc"/><polygon points="300.4,167.7 308.5,167.4 314.2,162.4 306,162.6" fill="#28c2ab"/><polygon points="306,162.6 314.2,162.4 319.9,157.4 311.7,157.5" fill="#36c898"/><polygon points="311.7,157.5 319.9,157.4 325.5,152.4 317.4,152.3" fill="#4ecc81"/><polygon points="317.4,152.3 325.5,152.4 331.2,147.6 323,147.4" fill="#6dcd67"/><polygon points="323,147.4 331.2,147.6 336.8,143.1 328.7,142.8" fill="#8ecb4f"/><polygon points="328.7,142.8 336.8,143.1 342.5,139.1 334.4,138.7" fill="#abc739"/><polygon points="334.4,138.7 342.5,139.1 348.2,136 340,135.5" fill="#c3c22b"/><polygon points="340,135.5 348.2,136 353.8,133.9 345.7,133.4" fill="#d4bf27"/><polygon points="345.7,133.4 353.8,133.9 360.9,133.2 352.7,132.7" fill="#e0bc2a"/><polygon points="352.7,132.7 360.9,133.2 366.7,134.3 358.5,134" fill="#e3bb2b"/><polygon points="358.5,134 366.7,134.3 372.5,137 364.3,136.9" fill="#e1bc2b"/><polygon points="364.3,136.9 372.5,137 378.3,141.1 370.2,141.2" fill="#dbbd28"/><polygon points="370.2,141.2 378.3,141.1 384.2,146.3 376,146.6" fill="#cfc027"/><polygon points="376,146.6 384.2,146.3 390,152.3 381.8,152.9" fill="#c0c32d"/><polygon points="381.8,152.9 390,152.3 395.8,158.9 387.6,159.7" fill="#adc738"/><polygon points="387.6,159.7 395.8,158.9 401.6,165.8 393.4,166.8" fill="#97ca48"/><polygon points="393.4,166.8 401.6,165.8 407.4,173 399.3,174" fill="#7fcc5a"/><polygon points="399.3,174 407.4,173 413.2,180.1 405.1,181.3" fill="#67cd6c"/><polygon points="405.1,181.3 413.2,180.1 419.1,187.3 410.9,188.6" fill="#53cc7d"/><polygon points="410.9,188.6 419.1,187.3 424.9,194.3 416.7,195.7" fill="#40ca8d"/><polygon points="416.7,195.7 424.9,194.3 430.7,201.2 422.5,202.6" fill="#35c79a"/><polygon points="422.5,202.6 430.7,201.2 436.5,207.8 428.3,209.3" fill="#2dc4a6"/><polygon points="428.3,209.3 436.5,207.8 442.3,214.2 434.2,215.7" fill="#22c1b0"/><polygon points="434.2,215.7 442.3,214.2 448.2,220.3 440,221.9" fill="#13beb9"/><polygon points="440,221.9 448.2,220.3 454,226.2 445.8,227.8" fill="#04bbc1"/><polygon points="445.8,227.8 454,226.2 459.8,231.7 451.6,233.4" fill="#00b9c8"/><polygon points="451.6,233.4 459.8,231.7 465.6,236.9 457.4,238.7" fill="#04b6ce"/><polygon points="218.6,211.6 226.8,210.6 232.4,209.3 224.3,210.2" fill="#4852f4"/><polygon points="224.3,210.2 232.4,209.3 238.1,207.6 229.9,208.5" fill="#4759f8"/><polygon points="229.9,208.5 238.1,207.6 243.7,205.6 235.6,206.5" fill="#4661fc"/><polygon points="235.6,206.5 243.7,205.6 249.4,203.2 241.3,204.1" fill="#426afe"/><polygon points="241.3,204.1 249.4,203.2 255.1,200.5 246.9,201.3" fill="#3a74ff"/><polygon points="246.9,201.3 255.1,200.5 260.7,197.4 252.6,198.2" fill="#307ffb"/><polygon points="252.6,198.2 260.7,197.4 266.4,194 258.3,194.7" fill="#2d89f5"/><polygon points="258.3,194.7 266.4,194 272.1,190.3 263.9,191" fill="#2a93ed"/><polygon points="263.9,191 272.1,190.3 277.7,186.3 269.6,186.9" fill="#249de6"/><polygon points="269.6,186.9 277.7,186.3 283.4,182 275.2,182.5" fill="#1ea7e1"/><polygon points="275.2,182.5 283.4,182 289.1,177.4 280.9,177.9" fill="#13b1d7"/><polygon points="280.9,177.9 289.1,177.4 294.7,172.7 286.6,173" fill="#00b8c9"/><polygon points="286.6,173 294.7,172.7 300.4,167.7 292.2,168" fill="#13beb8"/><polygon points="292.2,168 300.4,167.7 306,162.6 297.9,162.8" fill="#2cc4a7"/><polygon points="297.9,162.8 306,162.6 311.7,157.5 303.5,157.5" fill="#3bc993"/><polygon points="303.5,157.5 311.7,157.5 317.4,152.3 309.2,152.3" fill="#56cc7b"/><polygon points="309.2,152.3 317.4,152.3 323,147.4 314.9,147.2" fill="#77cc60"/><polygon points="314.9,147.2 323,147.4 328.7,142.8 320.5,142.4" fill="#98c946"/><polygon points="320.5,142.4 328.7,142.8 334.4,138.7 326.2,138.3" fill="#b5c533"/><polygon points="326.2,138.3 334.4,138.7 340,135.5 331.9,135" fill="#ccc028"/><polygon points="331.9,135 340,135.5 345.7,133.4 337.5,132.8" fill="#dcbd29"/><polygon points="337.5,132.8 345.7,133.4 352.7,132.7 344.6,132.2" fill="#e8bb2e"/><polygon points="344.6,132.2 352.7,132.7 358.5,134 350.4,133.7" fill="#eaba30"/><polygon points="350.4,133.7 358.5,134 364.3,136.9 356.2,136.8" fill="#e8bb2e"/><polygon points="356.2,136.8 364.3,136.9 370.2,141.2 362,141.3" fill="#e1bc2a"/><polygon points="362,141.3 370.2,141.2 376,146.6 367.8,147" fill="#d5be27"/><polygon points="367.8,147 376,146.6 381.8,152.9 373.6,153.5" fill="#c5c22a"/><polygon points="373.6,153.5 381.8,152.9 387.6,159.7 379.5,160.5" fill="#b2c635"/><polygon points="379.5,160.5 387.6,159.7 393.4,166.8 385.3,167.7" fill="#9bc944"/><polygon points="385.3,167.7 393.4,166.8 399.3,174 391.1,175.1" fill="#83cc57"/><polygon points="391.1,175.1 399.3,174 405.1,181.3 396.9,182.5" fill="#6bcd69"/><polygon points="396.9,182.5 405.1,181.3 410.9,188.6 402.7,189.8" fill="#55cc7b"/><polygon points="402.7,189.8 410.9,188.6 416.7,195.7 408.5,197" fill="#42ca8b"/><polygon points="408.5,197 416.7,195.7 422.5,202.6 414.4,204" fill="#36c899"/><polygon points="414.4,204 422.5,202.6 428.3,209.3 420.2,210.8" fill="#2ec4a5"/><polygon points="420.2,210.8 428.3,209.3 434.2,215.7 426,217.3" fill="#23c1af"/><polygon points="426,217.3 434.2,215.7 440,221.9 431.8,223.5" fill="#14bfb8"/><polygon points="431.8,223.5 440,221.9 445.8,227.8 437.6,229.4" fill="#05bcc0"/><polygon points="437.6,229.4 445.8,227.8 451.6,233.4 443.4,235.1" fill="#00b9c7"/><polygon points="443.4,235.1 451.6,233.4 457.4,238.7 449.3,240.4" fill="#04b6ce"/><polygon points="210.5,212.4 218.6,211.6 224.3,210.2 216.2,211.1" fill="#4854f5"/><polygon points="216.2,211.1 224.3,210.2 229.9,208.5 221.8,209.4" fill="#475bf9"/><polygon points="221.8,209.4 229.9,208.5 235.6,206.5 227.5,207.3" fill="#4563fd"/><polygon points="227.5,207.3 235.6,206.5 241.3,204.1 233.1,204.9" fill="#416cfe"/><polygon points="233.1,204.9 241.3,204.1 246.9,201.3 238.8,202" fill="#3776fe"/><polygon points="238.8,202 246.9,201.3 252.6,198.2 244.5,198.9" fill="#2f81fa"/><polygon points="244.5,198.9 252.6,198.2 258.3,194.7 250.1,195.4" fill="#2d8bf4"/><polygon points="250.1,195.4 258.3,194.7 263.9,191 255.8,191.6" fill="#2895ec"/><polygon points="255.8,191.6 263.9,191 269.6,186.9 261.4,187.5" fill="#24a0e5"/><polygon points="261.4,187.5 269.6,186.9 275.2,182.5 267.1,183" fill="#1caadf"/><polygon points="267.1,183 275.2,182.5 280.9,177.9 272.8,178.3" fill="#0eb2d4"/><polygon points="272.8,178.3 280.9,177.9 286.6,173 278.4,173.4" fill="#01bac5"/><polygon points="278.4,173.4 286.6,173 292.2,168 284.1,168.2" fill="#1ac0b5"/><polygon points="284.1,168.2 292.2,168 297.9,162.8 289.7,162.9" fill="#2fc5a2"/><polygon points="289.7,162.9 297.9,162.8 303.5,157.5 295.4,157.5" fill="#40ca8d"/><polygon points="295.4,157.5 303.5,157.5 309.2,152.3 301.1,152.2" fill="#5fcd73"/><polygon points="301.1,152.2 309.2,152.3 314.9,147.2 306.7,147" fill="#81cc58"/><polygon points="306.7,147 314.9,147.2 320.5,142.4 312.4,142.1" fill="#a3c83f"/><polygon points="312.4,142.1 320.5,142.4 326.2,138.3 318,137.8" fill="#c0c32d"/><polygon points="318,137.8 326.2,138.3 331.9,135 323.7,134.4" fill="#d6be27"/><polygon points="323.7,134.4 331.9,135 337.5,132.8 329.4,132.2" fill="#e5bb2c"/><polygon points="329.4,132.2 337.5,132.8 344.6,132.2 336.4,131.7" fill="#efba35"/><polygon points="336.4,131.7 344.6,132.2 350.4,133.7 342.2,133.3" fill="#f1ba37"/><polygon points="342.2,133.3 350.4,133.7 356.2,136.8 348,136.7" fill="#eeba34"/><polygon points="348,136.7 356.2,136.8 362,141.3 353.8,141.5" fill="#e7bb2d"/><polygon points="353.8,141.5 362,141.3 367.8,147 359.7,147.4" fill="#dabd28"/><polygon points="359.7,147.4 367.8,147 373.6,153.5 365.5,154.1" fill="#cac128"/><polygon points="365.5,154.1 373.6,153.5 379.5,160.5 371.3,161.2" fill="#b6c532"/><polygon points="371.3,161.2 379.5,160.5 385.3,167.7 377.1,168.7" fill="#a0c941"/><polygon points="377.1,168.7 385.3,167.7 391.1,175.1 382.9,176.2" fill="#87cb54"/><polygon points="382.9,176.2 391.1,175.1 396.9,182.5 388.7,183.7" fill="#6ecd66"/><polygon points="388.7,183.7 396.9,182.5 402.7,189.8 394.5,191.1" fill="#58cc79"/><polygon points="394.5,191.1 402.7,189.8 408.5,197 400.4,198.3" fill="#44cb89"/><polygon points="400.4,198.3 408.5,197 414.4,204 406.2,205.4" fill="#37c897"/><polygon points="406.2,205.4 414.4,204 420.2,210.8 412,212.2" fill="#2fc5a4"/><polygon points="412,212.2 420.2,210.8 426,217.3 417.8,218.8" fill="#25c2ae"/><polygon points="417.8,218.8 426,217.3 431.8,223.5 423.6,225" fill="#16bfb7"/><polygon points="423.6,225 431.8,223.5 437.6,229.4 429.4,231" fill="#06bcbf"/><polygon points="429.4,231 437.6,229.4 443.4,235.1 435.3,236.7" fill="#00b9c7"/><polygon points="435.3,236.7 443.4,235.1 449.3,240.4 441.1,242.1" fill="#03b6cd"/><polygon points="202.4,213.3 210.5,212.4 216.2,211.1 208,211.9" fill="#4856f6"/><polygon points="208,211.9 216.2,211.1 221.8,209.4 213.7,210.2" fill="#475dfa"/><polygon points="213.7,210.2 221.8,209.4 227.5,207.3 219.3,208.1" fill="#4465fd"/><polygon points="219.3,208.1 227.5,207.3 233.1,204.9 225,205.6" fill="#3f6eff"/><polygon points="225,205.6 233.1,204.9 238.8,202 230.7,202.8" fill="#3579fd"/><polygon points="230.7,202.8 238.8,202 244.5,198.9 236.3,199.6" fill="#2e83f9"/><polygon points="236.3,199.6 244.5,198.9 250.1,195.4 242,196.1" fill="#2d8df2"/><polygon points="242,196.1 250.1,195.4 255.8,191.6 247.6,192.2" fill="#2798ea"/><polygon points="247.6,192.2 255.8,191.6 261.4,187.5 253.3,188" fill="#22a2e4"/><polygon points="253.3,188 261.4,187.5 267.1,183 258.9,183.5" fill="#1aabdd"/><polygon points="258.9,183.5 267.1,183 272.8,178.3 264.6,178.7" fill="#09b4d1"/><polygon points="264.6,178.7 272.8,178.3 278.4,173.4 270.3,173.7" fill="#03bbc2"/><polygon points="270.3,173.7 278.4,173.4 284.1,168.2 275.9,168.5" fill="#21c1b1"/><polygon points="275.9,168.5 284.1,168.2 289.7,162.9 281.6,163.1" fill="#32c69e"/><polygon points="281.6,163.1 289.7,162.9 295.4,157.5 287.2,157.6" fill="#47cb87"/><polygon points="287.2,157.6 295.4,157.5 301.1,152.2 292.9,152.1" fill="#67cd6c"/><polygon points="292.9,152.1 301.1,152.2 306.7,147 298.6,146.7" fill="#8ccb50"/><polygon points="298.6,146.7 306.7,147 312.4,142.1 304.2,141.7" fill="#adc638"/><polygon points="304.2,141.7 312.4,142.1 318,137.8 309.9,137.3" fill="#c9c128"/><polygon points="309.9,137.3 318,137.8 323.7,134.4 315.5,133.8" fill="#dfbc29"/><polygon points="315.5,133.8 323.7,134.4 329.4,132.2 321.2,131.6" fill="#edba33"/><polygon points="321.2,131.6 329.4,132.2 336.4,131.7 328.2,131.1" fill="#f6ba3c"/><polygon points="328.2,131.1 336.4,131.7 342.2,133.3 334,132.9" fill="#f7ba3d"/><polygon points="334,132.9 342.2,133.3 348,136.7 339.9,136.5" fill="#f4ba3a"/><polygon points="339.9,136.5 348,136.7 353.8,141.5 345.7,141.6" fill="#ecba32"/><polygon points="345.7,141.6 353.8,141.5 359.7,147.4 351.5,147.8" fill="#e0bc2a"/><polygon points="351.5,147.8 359.7,147.4 365.5,154.1 357.3,154.7" fill="#cfc027"/><polygon points="357.3,154.7 365.5,154.1 371.3,161.2 363.1,162" fill="#bbc42f"/><polygon points="363.1,162 371.3,161.2 377.1,168.7 368.9,169.6" fill="#a4c83e"/><polygon points="368.9,169.6 377.1,168.7 382.9,176.2 374.7,177.2" fill="#8ccb50"/><polygon points="374.7,177.2 382.9,176.2 388.7,183.7 380.6,184.8" fill="#72cd63"/><polygon points="380.6,184.8 388.7,183.7 394.5,191.1 386.4,192.3" fill="#5bcc76"/><polygon points="386.4,192.3 394.5,191.1 400.4,198.3 392.2,199.6" fill="#46cb87"/><polygon points="392.2,199.6 400.4,198.3 406.2,205.4 398,206.7" fill="#38c896"/><polygon points="398,206.7 406.2,205.4 412,212.2 403.8,213.6" fill="#30c5a2"/><polygon points="403.8,213.6 412,212.2 417.8,218.8 409.6,220.2" fill="#26c2ad"/><polygon points="409.6,220.2 417.8,218.8 423.6,225 415.4,226.6" fill="#18bfb6"/><polygon points="415.4,226.6 423.6,225 429.4,231 421.3,232.6" fill="#07bcbf"/><polygon points="421.3,232.6 429.4,231 435.3,236.7 427.1,238.4" fill="#00b9c6"/><polygon points="427.1,238.4 435.3,236.7 441.1,242.1 432.9,243.8" fill="#03b6cd"/><polygon points="194.2,214.1 202.4,213.3 208,211.9 199.9,212.7" fill="#4758f8"/><polygon points="199.9,212.7 208,211.9 213.7,210.2 205.5,211" fill="#465ffb"/><polygon points="205.5,211 213.7,210.2 219.3,208.1 211.2,208.8" fill="#4367fd"/><polygon points="211.2,208.8 219.3,208.1 225,205.6 216.9,206.3" fill="#3d71ff"/><polygon points="216.9,206.3 225,205.6 230.7,202.8 222.5,203.5" fill="#327bfc"/><polygon points="222.5,203.5 230.7,202.8 236.3,199.6 228.2,200.2" fill="#2e85f8"/><polygon points="228.2,200.2 236.3,199.6 242,196.1 233.8,196.7" fill="#2c90f0"/><polygon points="233.8,196.7 242,196.1 247.6,192.2 239.5,192.8" fill="#269ae9"/><polygon points="239.5,192.8 247.6,192.2 253.3,188 245.1,188.5" fill="#21a4e3"/><polygon points="245.1,188.5 253.3,188 258.9,183.5 250.8,184" fill="#18addb"/><polygon points="250.8,184 258.9,183.5 264.6,178.7 256.5,179.1" fill="#05b6ce"/><polygon points="256.5,179.1 264.6,178.7 270.3,173.7 262.1,174" fill="#08bcbe"/><polygon points="262.1,174 270.3,173.7 275.9,168.5 267.8,168.7" fill="#26c2ad"/><polygon points="267.8,168.7 275.9,168.5 281.6,163.1 273.4,163.2" fill="#36c899"/><polygon points="273.4,163.2 281.6,163.1 287.2,157.6 279.1,157.6" fill="#4fcc81"/><polygon points="279.1,157.6 287.2,157.6 292.9,152.1 284.7,152" fill="#71cd64"/><polygon points="284.7,152 292.9,152.1 298.6,146.7 290.4,146.5" fill="#96ca48"/><polygon points="290.4,146.5 298.6,146.7 304.2,141.7 296.1,141.3" fill="#b7c531"/><polygon points="296.1,141.3 304.2,141.7 309.9,137.3 301.7,136.7" fill="#d3bf27"/><polygon points="301.7,136.7 309.9,137.3 315.5,133.8 307.4,133.1" fill="#e7bb2e"/><polygon points="307.4,133.1 315.5,133.8 321.2,131.6 313,130.9" fill="#f4ba3a"/><polygon points="313,130.9 321.2,131.6 328.2,131.1 320.1,130.5" fill="#fcbc3e"/><polygon points="320.1,130.5 328.2,131.1 334,132.9 325.9,132.5" fill="#fdbc3e"/><polygon points="325.9,132.5 334,132.9 339.9,136.5 331.7,136.4" fill="#f9ba3e"/><polygon points="331.7,136.4 339.9,136.5 345.7,141.6 337.5,141.8" fill="#f1ba37"/><polygon points="337.5,141.8 345.7,141.6 351.5,147.8 343.3,148.2" fill="#e5bb2c"/><polygon points="343.3,148.2 351.5,147.8 357.3,154.7 349.1,155.3" fill="#d4bf27"/><polygon points="349.1,155.3 357.3,154.7 363.1,162 354.9,162.8" fill="#c0c32d"/><polygon points="354.9,162.8 363.1,162 368.9,169.6 360.8,170.5" fill="#a9c73a"/><polygon points="360.8,170.5 368.9,169.6 374.7,177.2 366.6,178.2" fill="#90ca4d"/><polygon points="366.6,178.2 374.7,177.2 380.6,184.8 372.4,185.9" fill="#76cc60"/><polygon points="372.4,185.9 380.6,184.8 386.4,192.3 378.2,193.5" fill="#5ecd74"/><polygon points="378.2,193.5 386.4,192.3 392.2,199.6 384,200.9" fill="#49cb85"/><polygon points="384,200.9 392.2,199.6 398,206.7 389.8,208.1" fill="#39c994"/><polygon points="389.8,208.1 398,206.7 403.8,213.6 395.6,215" fill="#30c5a1"/><polygon points="395.6,215 403.8,213.6 409.6,220.2 401.5,221.7" fill="#27c2ac"/><polygon points="401.5,221.7 409.6,220.2 415.4,226.6 407.3,228.1" fill="#19bfb5"/><polygon points="407.3,228.1 415.4,226.6 421.3,232.6 413.1,234.2" fill="#09bdbe"/><polygon points="413.1,234.2 421.3,232.6 427.1,238.4 418.9,240" fill="#01bac5"/><polygon points="418.9,240 427.1,238.4 432.9,243.8 424.7,245.5" fill="#02b7cc"/><polygon points="186.1,214.9 194.2,214.1 199.9,212.7 191.7,213.5" fill="#475af9"/><polygon points="191.7,213.5 199.9,212.7 205.5,211 197.4,211.7" fill="#4561fc"/><polygon points="197.4,211.7 205.5,211 211.2,208.8 203.1,209.6" fill="#426afe"/><polygon points="203.1,209.6 211.2,208.8 216.9,206.3 208.7,207" fill="#3a73ff"/><polygon points="208.7,207 216.9,206.3 222.5,203.5 214.4,204.1" fill="#307efc"/><polygon points="214.4,204.1 222.5,203.5 228.2,200.2 220,200.9" fill="#2d88f6"/><polygon points="220,200.9 228.2,200.2 233.8,196.7 225.7,197.3" fill="#2b92ee"/><polygon points="225.7,197.3 233.8,196.7 239.5,192.8 231.3,193.3" fill="#259ce7"/><polygon points="231.3,193.3 239.5,192.8 245.1,188.5 237,189" fill="#1fa6e2"/><polygon points="237,189 245.1,188.5 250.8,184 242.7,184.4" fill="#15afd9"/><polygon points="242.7,184.4 250.8,184 256.5,179.1 248.3,179.5" fill="#01b7cb"/><polygon points="248.3,179.5 256.5,179.1 262.1,174 254,174.3" fill="#0fbebb"/><polygon points="254,174.3 262.1,174 267.8,168.7 259.6,168.9" fill="#2ac3a9"/><polygon points="259.6,168.9 267.8,168.7 273.4,163.2 265.3,163.3" fill="#3ac994"/><polygon points="265.3,163.3 273.4,163.2 279.1,157.6 270.9,157.6" fill="#57cc7a"/><polygon points="270.9,157.6 279.1,157.6 284.7,152 276.6,151.8" fill="#7bcc5d"/><polygon points="276.6,151.8 284.7,152 290.4,146.5 282.2,146.2" fill="#a0c841"/><polygon points="282.2,146.2 290.4,146.5 296.1,141.3 287.9,140.9" fill="#c1c32c"/><polygon points="287.9,140.9 296.1,141.3 301.7,136.7 293.6,136.2" fill="#dcbd29"/><polygon points="293.6,136.2 301.7,136.7 307.4,133.1 299.2,132.4" fill="#efba35"/><polygon points="299.2,132.4 307.4,133.1 313,130.9 304.9,130.1" fill="#fbbb3e"/><polygon points="304.9,130.1 313,130.9 320.1,130.5 311.9,129.9" fill="#fec03b"/><polygon points="311.9,129.9 320.1,130.5 325.9,132.5 317.7,132.1" fill="#fec03b"/><polygon points="317.7,132.1 325.9,132.5 331.7,136.4 323.5,136.3" fill="#fdbd3d"/><polygon points="323.5,136.3 331.7,136.4 337.5,141.8 329.3,141.9" fill="#f6ba3c"/><polygon points="329.3,141.9 337.5,141.8 343.3,148.2 335.2,148.6" fill="#eaba30"/><polygon points="335.2,148.6 343.3,148.2 349.1,155.3 341,155.9" fill="#d9be28"/><polygon points="341,155.9 349.1,155.3 354.9,162.8 346.8,163.6" fill="#c5c22a"/><polygon points="346.8,163.6 354.9,162.8 360.8,170.5 352.6,171.4" fill="#adc638"/><polygon points="352.6,171.4 360.8,170.5 366.6,178.2 358.4,179.2" fill="#94ca4a"/><polygon points="358.4,179.2 366.6,178.2 372.4,185.9 364.2,187" fill="#7acc5e"/><polygon points="364.2,187 372.4,185.9 378.2,193.5 370,194.7" fill="#61cd71"/><polygon points="370,194.7 378.2,193.5 384,200.9 375.8,202.1" fill="#4ccb83"/><polygon points="375.8,202.1 384,200.9 389.8,208.1 381.6,209.4" fill="#3bc992"/><polygon points="381.6,209.4 389.8,208.1 395.6,215 387.5,216.4" fill="#31c69f"/><polygon points="387.5,216.4 395.6,215 401.5,221.7 393.3,223.1" fill="#29c3aa"/><polygon points="393.3,223.1 401.5,221.7 407.3,228.1 399.1,229.6" fill="#1bc0b4"/><polygon points="399.1,229.6 407.3,228.1 413.1,234.2 404.9,235.7" fill="#0abdbd"/><polygon points="404.9,235.7 413.1,234.2 418.9,240 410.7,241.6" fill="#01bac5"/><polygon points="410.7,241.6 418.9,240 424.7,245.5 416.5,247.2" fill="#02b7cc"/><polygon points="178,215.7 186.1,214.9 191.7,213.5 183.6,214.2" fill="#475cfa"/><polygon points="183.6,214.2 191.7,213.5 197.4,211.7 189.3,212.4" fill="#4563fd"/><polygon points="189.3,212.4 197.4,211.7 203.1,209.6 194.9,210.2" fill="#416cfe"/><polygon points="194.9,210.2 203.1,209.6 208.7,207 200.6,207.7" fill="#3876fe"/><polygon points="200.6,207.7 208.7,207 214.4,204.1 206.2,204.8" fill="#2f80fb"/><polygon points="206.2,204.8 214.4,204.1 220,200.9 211.9,201.5" fill="#2d8af5"/><polygon points="211.9,201.5 220,200.9 225.7,197.3 217.5,197.8" fill="#2994ed"/><polygon points="217.5,197.8 225.7,197.3 231.3,193.3 223.2,193.8" fill="#249ee6"/><polygon points="223.2,193.8 231.3,193.3 237,189 228.9,189.5" fill="#1da8e0"/><polygon points="228.9,189.5 237,189 242.7,184.4 234.5,184.8" fill="#12b1d6"/><polygon points="234.5,184.8 242.7,184.4 248.3,179.5 240.2,179.8" fill="#00b9c8"/><polygon points="240.2,179.8 248.3,179.5 254,174.3 245.8,174.6" fill="#16bfb7"/><polygon points="245.8,174.6 254,174.3 259.6,168.9 251.5,169.1" fill="#2ec4a5"/><polygon points="251.5,169.1 259.6,168.9 265.3,163.3 257.1,163.4" fill="#3fca8e"/><polygon points="257.1,163.4 265.3,163.3 270.9,157.6 262.8,157.6" fill="#5fcd74"/><polygon points="262.8,157.6 270.9,157.6 276.6,151.8 268.4,151.7" fill="#85cc56"/><polygon points="268.4,151.7 276.6,151.8 282.2,146.2 274.1,145.9" fill="#aac73a"/><polygon points="274.1,145.9 282.2,146.2 287.9,140.9 279.7,140.4" fill="#cbc128"/><polygon points="279.7,140.4 287.9,140.9 293.6,136.2 285.4,135.6" fill="#e4bb2c"/><polygon points="285.4,135.6 293.6,136.2 299.2,132.4 291.1,131.7" fill="#f6ba3c"/><polygon points="291.1,131.7 299.2,132.4 304.9,130.1 296.7,129.3" fill="#febf3b"/><polygon points="296.7,129.3 304.9,130.1 311.9,129.9 303.7,129.2" fill="#fec537"/><polygon points="303.7,129.2 311.9,129.9 317.7,132.1 309.6,131.7" fill="#fec437"/><polygon points="309.6,131.7 317.7,132.1 323.5,136.3 315.4,136.1" fill="#fec03a"/><polygon points="315.4,136.1 323.5,136.3 329.3,141.9 321.2,142.1" fill="#fbbb3e"/><polygon points="321.2,142.1 329.3,141.9 335.2,148.6 327,149" fill="#eeba34"/><polygon points="327,149 335.2,148.6 341,155.9 332.8,156.5" fill="#ddbd29"/><polygon points="332.8,156.5 341,155.9 346.8,163.6 338.6,164.3" fill="#c9c128"/><polygon points="338.6,164.3 346.8,163.6 352.6,171.4 344.4,172.3" fill="#b2c635"/><polygon points="344.4,172.3 352.6,171.4 358.4,179.2 350.2,180.2" fill="#98ca47"/><polygon points="350.2,180.2 358.4,179.2 364.2,187 356,188.1" fill="#7ecc5b"/><polygon points="356,188.1 364.2,187 370,194.7 361.9,195.8" fill="#65cd6e"/><polygon points="361.9,195.8 370,194.7 375.8,202.1 367.7,203.3" fill="#4fcc81"/><polygon points="367.7,203.3 375.8,202.1 381.6,209.4 373.5,210.6" fill="#3dc990"/><polygon points="373.5,210.6 381.6,209.4 387.5,216.4 379.3,217.7" fill="#32c69e"/><polygon points="379.3,217.7 387.5,216.4 393.3,223.1 385.1,224.5" fill="#2ac3a9"/><polygon points="385.1,224.5 393.3,223.1 399.1,229.6 390.9,231" fill="#1dc0b3"/><polygon points="390.9,231 399.1,229.6 404.9,235.7 396.7,237.3" fill="#0cbdbc"/><polygon points="396.7,237.3 404.9,235.7 410.7,241.6 402.5,243.2" fill="#01bac4"/><polygon points="402.5,243.2 410.7,241.6 416.5,247.2 408.3,248.9" fill="#02b7cb"/><polygon points="169.8,216.4 178,215.7 183.6,214.2 175.5,214.9" fill="#465efb"/><polygon points="175.5,214.9 183.6,214.2 189.3,212.4 181.1,213.1" fill="#4466fd"/><polygon points="181.1,213.1 189.3,212.4 194.9,210.2 186.8,210.9" fill="#3f6eff"/><polygon points="186.8,210.9 194.9,210.2 200.6,207.7 192.4,208.3" fill="#3578fd"/><polygon points="192.4,208.3 200.6,207.7 206.2,204.8 198.1,205.4" fill="#2f82f9"/><polygon points="198.1,205.4 206.2,204.8 211.9,201.5 203.7,202" fill="#2d8cf3"/><polygon points="203.7,202 211.9,201.5 217.5,197.8 209.4,198.4" fill="#2796eb"/><polygon points="209.4,198.4 217.5,197.8 223.2,193.8 215.1,194.3" fill="#23a0e5"/><polygon points="215.1,194.3 223.2,193.8 228.9,189.5 220.7,189.9" fill="#1caadf"/><polygon points="220.7,189.9 228.9,189.5 234.5,184.8 226.4,185.2" fill="#0db3d3"/><polygon points="226.4,185.2 234.5,184.8 240.2,179.8 232,180.2" fill="#01bac4"/><polygon points="232,180.2 240.2,179.8 245.8,174.6 237.7,174.9" fill="#1dc0b3"/><polygon points="237.7,174.9 245.8,174.6 251.5,169.1 243.3,169.3" fill="#31c6a0"/><polygon points="243.3,169.3 251.5,169.1 257.1,163.4 249,163.5" fill="#45cb89"/><polygon points="249,163.5 257.1,163.4 262.8,157.6 254.6,157.6" fill="#67cd6c"/><polygon points="254.6,157.6 262.8,157.6 268.4,151.7 260.3,151.6" fill="#8ecb4e"/><polygon points="260.3,151.6 268.4,151.7 274.1,145.9 265.9,145.6" fill="#b4c534"/><polygon points="265.9,145.6 274.1,145.9 279.7,140.4 271.6,140" fill="#d3bf27"/><polygon points="271.6,140 279.7,140.4 285.4,135.6 277.2,134.9" fill="#ecba32"/><polygon points="277.2,134.9 285.4,135.6 291.1,131.7 282.9,130.9" fill="#fdbc3e"/><polygon points="282.9,130.9 291.1,131.7 296.7,129.3 288.6,128.5" fill="#fec437"/><polygon points="288.6,128.5 296.7,129.3 303.7,129.2 295.6,128.5" fill="#feca33"/><polygon points="295.6,128.5 303.7,129.2 309.6,131.7 301.4,131.2" fill="#fec934"/><polygon points="301.4,131.2 309.6,131.7 315.4,136.1 307.2,136" fill="#fec437"/><polygon points="307.2,136 315.4,136.1 321.2,142.1 313,142.3" fill="#febd3d"/><polygon points="313,142.3 321.2,142.1 327,149 318.8,149.4" fill="#f2ba38"/><polygon points="318.8,149.4 327,149 332.8,156.5 324.6,157.1" fill="#e2bc2b"/><polygon points="324.6,157.1 332.8,156.5 338.6,164.3 330.4,165.1" fill="#cec027"/><polygon points="330.4,165.1 338.6,164.3 344.4,172.3 336.2,173.2" fill="#b6c532"/><polygon points="336.2,173.2 344.4,172.3 350.2,180.2 342.1,181.2" fill="#9dc943"/><polygon points="342.1,181.2 350.2,180.2 356,188.1 347.9,189.2" fill="#82cc58"/><polygon points="347.9,189.2 356,188.1 361.9,195.8 353.7,196.9" fill="#68cd6b"/><polygon points="353.7,196.9 361.9,195.8 367.7,203.3 359.5,204.5" fill="#52cc7e"/><polygon points="359.5,204.5 367.7,203.3 373.5,210.6 365.3,211.9" fill="#3fca8e"/><polygon points="365.3,211.9 373.5,210.6 379.3,217.7 371.1,219" fill="#33c79c"/><polygon points="371.1,219 379.3,217.7 385.1,224.5 376.9,225.9" fill="#2bc3a8"/><polygon points="376.9,225.9 385.1,224.5 390.9,231 382.7,232.5" fill="#1fc0b2"/><polygon points="382.7,232.5 390.9,231 396.7,237.3 388.5,238.8" fill="#0ebdbb"/><polygon points="388.5,238.8 396.7,237.3 402.5,243.2 394.3,244.8" fill="#02bac3"/><polygon points="394.3,244.8 402.5,243.2 408.3,248.9 400.2,250.6" fill="#01b7cb"/><polygon points="161.7,217.1 169.8,216.4 175.5,214.9 167.3,215.6" fill="#4660fc"/><polygon points="167.3,215.6 175.5,214.9 181.1,213.1 173,213.8" fill="#4368fe"/><polygon points="173,213.8 181.1,213.1 186.8,210.9 178.6,211.5" fill="#3d71ff"/><polygon points="178.6,211.5 186.8,210.9 192.4,208.3 184.3,208.9" fill="#337bfc"/><polygon points="184.3,208.9 192.4,208.3 198.1,205.4 189.9,205.9" fill="#2e85f8"/><polygon points="189.9,205.9 198.1,205.4 203.7,202 195.6,202.6" fill="#2c8ff1"/><polygon points="195.6,202.6 203.7,202 209.4,198.4 201.3,198.9" fill="#2698ea"/><polygon points="201.3,198.9 209.4,198.4 215.1,194.3 206.9,194.8" fill="#22a2e4"/><polygon points="206.9,194.8 215.1,194.3 220.7,189.9 212.6,190.4" fill="#1aacdd"/><polygon points="212.6,190.4 220.7,189.9 226.4,185.2 218.2,185.6" fill="#08b4d0"/><polygon points="218.2,185.6 226.4,185.2 232,180.2 223.9,180.5" fill="#04bbc1"/><polygon points="223.9,180.5 232,180.2 237.7,174.9 229.5,175.2" fill="#23c1af"/><polygon points="229.5,175.2 237.7,174.9 243.3,169.3 235.2,169.5" fill="#34c79c"/><polygon points="235.2,169.5 243.3,169.3 249,163.5 240.8,163.6" fill="#4ccb83"/><polygon points="240.8,163.6 249,163.5 254.6,157.6 246.5,157.6" fill="#6fcd65"/><polygon points="246.5,157.6 254.6,157.6 260.3,151.6 252.1,151.4" fill="#98ca47"/><polygon points="252.1,151.4 260.3,151.6 265.9,145.6 257.8,145.4" fill="#bdc32e"/><polygon points="257.8,145.4 265.9,145.6 271.6,140 263.4,139.5" fill="#dcbd29"/><polygon points="263.4,139.5 271.6,140 277.2,134.9 269.1,134.3" fill="#f3ba39"/><polygon points="269.1,134.3 277.2,134.9 282.9,130.9 274.7,130.1" fill="#fec13a"/><polygon points="274.7,130.1 282.9,130.9 288.6,128.5 280.4,127.6" fill="#feca33"/><polygon points="280.4,127.6 288.6,128.5 295.6,128.5 287.4,127.8" fill="#fccf30"/><polygon points="287.4,127.8 295.6,128.5 301.4,131.2 293.2,130.8" fill="#fdce31"/><polygon points="293.2,130.8 301.4,131.2 307.2,136 299,135.9" fill="#fec834"/><polygon points="299,135.9 307.2,136 313,142.3 304.8,142.5" fill="#fec03b"/><polygon points="304.8,142.5 313,142.3 318.8,149.4 310.7,149.9" fill="#f6ba3c"/><polygon points="310.7,149.9 318.8,149.4 324.6,157.1 316.5,157.8" fill="#e6bb2d"/><polygon points="316.5,157.8 324.6,157.1 330.4,165.1 322.3,165.9" fill="#d2bf27"/><polygon points="322.3,165.9 330.4,165.1 336.2,173.2 328.1,174.1" fill="#bac430"/><polygon points="328.1,174.1 336.2,173.2 342.1,181.2 333.9,182.2" fill="#a1c840"/><polygon points="333.9,182.2 342.1,181.2 347.9,189.2 339.7,190.2" fill="#86cb55"/><polygon points="339.7,190.2 347.9,189.2 353.7,196.9 345.5,198.1" fill="#6ccd68"/><polygon points="345.5,198.1 353.7,196.9 359.5,204.5 351.3,205.7" fill="#55cc7c"/><polygon points="351.3,205.7 359.5,204.5 365.3,211.9 357.1,213.1" fill="#41ca8c"/><polygon points="357.1,213.1 365.3,211.9 371.1,219 362.9,220.3" fill="#35c79b"/><polygon points="362.9,220.3 371.1,219 376.9,225.9 368.7,227.2" fill="#2cc4a7"/><polygon points="368.7,227.2 376.9,225.9 382.7,232.5 374.5,233.9" fill="#20c1b1"/><polygon points="374.5,233.9 382.7,232.5 388.5,238.8 380.4,240.3" fill="#10beba"/><polygon points="380.4,240.3 388.5,238.8 394.3,244.8 386.2,246.4" fill="#02bbc3"/><polygon points="386.2,246.4 394.3,244.8 400.2,250.6 392,252.3" fill="#01b7ca"/><polygon points="153.5,217.8 161.7,217.1 167.3,215.6 159.2,216.3" fill="#4563fc"/><polygon points="159.2,216.3 167.3,215.6 173,213.8 164.8,214.4" fill="#426bfe"/><polygon points="164.8,214.4 173,213.8 178.6,211.5 170.5,212.1" fill="#3a74ff"/><polygon points="170.5,212.1 178.6,211.5 184.3,208.9 176.2,209.5" fill="#307efc"/><polygon points="176.2,209.5 184.3,208.9 189.9,205.9 181.8,206.5" fill="#2e87f7"/><polygon points="181.8,206.5 189.9,205.9 195.6,202.6 187.5,203.1" fill="#2b91ef"/><polygon points="187.5,203.1 195.6,202.6 201.3,198.9 193.1,199.4" fill="#259be8"/><polygon points="193.1,199.4 201.3,198.9 206.9,194.8 198.8,195.3" fill="#20a4e3"/><polygon points="198.8,195.3 206.9,194.8 212.6,190.4 204.4,190.8" fill="#18aedb"/><polygon points="204.4,190.8 212.6,190.4 218.2,185.6 210.1,186" fill="#04b6cd"/><polygon points="210.1,186 218.2,185.6 223.9,180.5 215.7,180.9" fill="#09bdbd"/><polygon points="215.7,180.9 223.9,180.5 229.5,175.2 221.4,175.5" fill="#27c2ac"/><polygon points="221.4,175.5 229.5,175.2 235.2,169.5 227,169.7" fill="#37c897"/><polygon points="227,169.7 235.2,169.5 240.8,163.6 232.7,163.8" fill="#53cc7d"/><polygon points="232.7,163.8 240.8,163.6 246.5,157.6 238.3,157.6" fill="#79cc5f"/><polygon points="238.3,157.6 246.5,157.6 252.1,151.4 244,151.3" fill="#a1c840"/><polygon points="244,151.3 252.1,151.4 257.8,145.4 249.6,145.1" fill="#c6c22a"/><polygon points="249.6,145.1 257.8,145.4 263.4,139.5 255.3,139.1" fill="#e4bb2c"/><polygon points="255.3,139.1 263.4,139.5 269.1,134.3 260.9,133.6" fill="#fabb3e"/><polygon points="260.9,133.6 269.1,134.3 274.7,130.1 266.6,129.3" fill="#fec636"/><polygon points="266.6,129.3 274.7,130.1 280.4,127.6 272.2,126.7" fill="#fcd030"/><polygon points="272.2,126.7 280.4,127.6 287.4,127.8 279.3,127" fill="#fad52e"/><polygon points="279.3,127 287.4,127.8 293.2,130.8 285.1,130.4" fill="#fbd32f"/><polygon points="285.1,130.4 293.2,130.8 299,135.9 290.9,135.8" fill="#fdcc32"/><polygon points="290.9,135.8 299,135.9 304.8,142.5 296.7,142.7" fill="#fec338"/><polygon points="296.7,142.7 304.8,142.5 310.7,149.9 302.5,150.4" fill="#fabb3e"/><polygon points="302.5,150.4 310.7,149.9 316.5,157.8 308.3,158.5" fill="#eaba30"/><polygon points="308.3,158.5 316.5,157.8 322.3,165.9 314.1,166.7" fill="#d6be27"/><polygon points="314.1,166.7 322.3,165.9 328.1,174.1 319.9,175" fill="#bfc32d"/><polygon points="319.9,175 328.1,174.1 333.9,182.2 325.7,183.2" fill="#a5c83d"/><polygon points="325.7,183.2 333.9,182.2 339.7,190.2 331.5,191.3" fill="#8acb51"/><polygon points="331.5,191.3 339.7,190.2 345.5,198.1 337.3,199.2" fill="#6fcd65"/><polygon points="337.3,199.2 345.5,198.1 351.3,205.7 343.1,206.9" fill="#58cc79"/><polygon points="343.1,206.9 351.3,205.7 357.1,213.1 348.9,214.3" fill="#43cb8a"/><polygon points="348.9,214.3 357.1,213.1 362.9,220.3 354.8,221.6" fill="#36c899"/><polygon points="354.8,221.6 362.9,220.3 368.7,227.2 360.6,228.6" fill="#2dc4a5"/><polygon points="360.6,228.6 368.7,227.2 374.5,233.9 366.4,235.3" fill="#22c1b0"/><polygon points="366.4,235.3 374.5,233.9 380.4,240.3 372.2,241.8" fill="#12beb9"/><polygon points="372.2,241.8 380.4,240.3 386.2,246.4 378,248" fill="#03bbc2"/><polygon points="378,248 386.2,246.4 392,252.3 383.8,253.9" fill="#01b8ca"/><polygon points="145.4,218.4 153.5,217.8 159.2,216.3 151.1,216.9" fill="#4465fd"/><polygon points="151.1,216.9 159.2,216.3 164.8,214.4 156.7,215" fill="#406dfe"/><polygon points="156.7,215 164.8,214.4 170.5,212.1 162.4,212.7" fill="#3776fe"/><polygon points="162.4,212.7 170.5,212.1 176.2,209.5 168,210.1" fill="#2f80fa"/><polygon points="168,210.1 176.2,209.5 181.8,206.5 173.7,207" fill="#2d8af5"/><polygon points="173.7,207 181.8,206.5 187.5,203.1 179.3,203.6" fill="#2a93ed"/><polygon points="179.3,203.6 187.5,203.1 193.1,199.4 185,199.9" fill="#259de7"/><polygon points="185,199.9 193.1,199.4 198.8,195.3 190.6,195.7" fill="#1ea7e1"/><polygon points="190.6,195.7 198.8,195.3 204.4,190.8 196.3,191.3" fill="#14b0d8"/><polygon points="196.3,191.3 204.4,190.8 210.1,186 201.9,186.4" fill="#01b8ca"/><polygon points="201.9,186.4 210.1,186 215.7,180.9 207.6,181.2" fill="#10beba"/><polygon points="207.6,181.2 215.7,180.9 221.4,175.5 213.2,175.8" fill="#2bc3a8"/><polygon points="213.2,175.8 221.4,175.5 227,169.7 218.9,170" fill="#3bc992"/><polygon points="218.9,170 227,169.7 232.7,163.8 224.5,163.9" fill="#5acc77"/><polygon points="224.5,163.9 232.7,163.8 238.3,157.6 230.2,157.7" fill="#82cc58"/><polygon points="230.2,157.7 238.3,157.6 244,151.3 235.8,151.3" fill="#aac73a"/><polygon points="235.8,151.3 244,151.3 249.6,145.1 241.5,144.9" fill="#cec027"/><polygon points="241.5,144.9 249.6,145.1 255.3,139.1 247.1,138.7" fill="#ebba31"/><polygon points="247.1,138.7 255.3,139.1 260.9,133.6 252.8,133" fill="#febe3c"/><polygon points="252.8,133 260.9,133.6 266.6,129.3 258.4,128.4" fill="#fdcb32"/><polygon points="258.4,128.4 266.6,129.3 272.2,126.7 264.1,125.8" fill="#fad62d"/><polygon points="264.1,125.8 272.2,126.7 279.3,127 271.1,126.3" fill="#f7da2b"/><polygon points="271.1,126.3 279.3,127 285.1,130.4 276.9,130" fill="#f9d82c"/><polygon points="276.9,130 285.1,130.4 290.9,135.8 282.7,135.8" fill="#fcd030"/><polygon points="282.7,135.8 290.9,135.8 296.7,142.7 288.5,143" fill="#fec636"/><polygon points="288.5,143 296.7,142.7 302.5,150.4 294.3,151" fill="#fdbc3e"/><polygon points="294.3,151 302.5,150.4 308.3,158.5 300.1,159.2" fill="#edba33"/><polygon points="300.1,159.2 308.3,158.5 314.1,166.7 305.9,167.6" fill="#dabd28"/><polygon points="305.9,167.6 314.1,166.7 319.9,175 311.7,175.9" fill="#c3c22b"/><polygon points="311.7,175.9 319.9,175 325.7,183.2 317.5,184.2" fill="#a9c73a"/><polygon points="317.5,184.2 325.7,183.2 331.5,191.3 323.3,192.3" fill="#8ecb4e"/><polygon points="323.3,192.3 331.5,191.3 337.3,199.2 329.2,200.3" fill="#73cd62"/><polygon points="329.2,200.3 337.3,199.2 343.1,206.9 335,208" fill="#5bcc76"/><polygon points="335,208 343.1,206.9 348.9,214.3 340.8,215.5" fill="#46cb88"/><polygon points="340.8,215.5 348.9,214.3 354.8,221.6 346.6,222.8" fill="#37c897"/><polygon points="346.6,222.8 354.8,221.6 360.6,228.6 352.4,229.9" fill="#2fc5a4"/><polygon points="352.4,229.9 360.6,228.6 366.4,235.3 358.2,236.7" fill="#24c1ae"/><polygon points="358.2,236.7 366.4,235.3 372.2,241.8 364,243.3" fill="#14beb8"/><polygon points="364,243.3 372.2,241.8 378,248 369.8,249.6" fill="#04bbc1"/><polygon points="369.8,249.6 378,248 383.8,253.9 375.6,255.6" fill="#01b8c9"/><polygon points="137.3,219 145.4,218.4 151.1,216.9 142.9,217.5" fill="#4368fd"/><polygon points="142.9,217.5 151.1,216.9 156.7,215 148.6,215.6" fill="#3e70ff"/><polygon points="148.6,215.6 156.7,215 162.4,212.7 154.2,213.3" fill="#3579fd"/><polygon points="154.2,213.3 162.4,212.7 168,210.1 159.9,210.6" fill="#2e83f9"/><polygon points="159.9,210.6 168,210.1 173.7,207 165.5,207.6" fill="#2d8cf3"/><polygon points="165.5,207.6 173.7,207 179.3,203.6 171.2,204.2" fill="#2896ec"/><polygon points="171.2,204.2 179.3,203.6 185,199.9 176.8,200.4" fill="#249fe5"/><polygon points="176.8,200.4 185,199.9 190.6,195.7 182.5,196.2" fill="#1da9e0"/><polygon points="182.5,196.2 190.6,195.7 196.3,191.3 188.1,191.7" fill="#11b2d5"/><polygon points="188.1,191.7 196.3,191.3 201.9,186.4 193.8,186.8" fill="#00b9c7"/><polygon points="193.8,186.8 201.9,186.4 207.6,181.2 199.4,181.6" fill="#17bfb6"/><polygon points="199.4,181.6 207.6,181.2 213.2,175.8 205.1,176.1" fill="#2ec5a4"/><polygon points="205.1,176.1 213.2,175.8 218.9,170 210.7,170.2" fill="#40ca8d"/><polygon points="210.7,170.2 218.9,170 224.5,163.9 216.4,164.1" fill="#62cd71"/><polygon points="216.4,164.1 224.5,163.9 230.2,157.7 222,157.8" fill="#8acb51"/><polygon points="222,157.8 230.2,157.7 235.8,151.3 227.7,151.3" fill="#b3c534"/><polygon points="227.7,151.3 235.8,151.3 241.5,144.9 233.3,144.7" fill="#d6be27"/><polygon points="233.3,144.7 241.5,144.9 247.1,138.7 239,138.3" fill="#f2ba38"/><polygon points="239,138.3 247.1,138.7 252.8,133 244.6,132.3" fill="#fec338"/><polygon points="244.6,132.3 252.8,133 258.4,128.4 250.3,127.5" fill="#fcd12f"/><polygon points="250.3,127.5 258.4,128.4 264.1,125.8 255.9,124.7" fill="#f7dc2a"/><polygon points="255.9,124.7 264.1,125.8 271.1,126.3 262.9,125.5" fill="#f6e028"/><polygon points="262.9,125.5 271.1,126.3 276.9,130 268.7,129.6" fill="#f7dc2a"/><polygon points="268.7,129.6 276.9,130 282.7,135.8 274.5,135.9" fill="#fad42e"/><polygon points="274.5,135.9 282.7,135.8 288.5,143 280.3,143.4" fill="#fec934"/><polygon points="280.3,143.4 288.5,143 294.3,151 286.2,151.6" fill="#febe3c"/><polygon points="286.2,151.6 294.3,151 300.1,159.2 292,160" fill="#f1ba37"/><polygon points="292,160 300.1,159.2 305.9,167.6 297.8,168.4" fill="#ddbd29"/><polygon points="297.8,168.4 305.9,167.6 311.7,175.9 303.6,176.9" fill="#c7c129"/><polygon points="303.6,176.9 311.7,175.9 317.5,184.2 309.4,185.2" fill="#adc638"/><polygon points="309.4,185.2 317.5,184.2 323.3,192.3 315.2,193.4" fill="#93ca4b"/><polygon points="315.2,193.4 323.3,192.3 329.2,200.3 321,201.4" fill="#77cc60"/><polygon points="321,201.4 329.2,200.3 335,208 326.8,209.2" fill="#5ecd74"/><polygon points="326.8,209.2 335,208 340.8,215.5 332.6,216.7" fill="#49cb86"/><polygon points="332.6,216.7 340.8,215.5 346.6,222.8 338.4,224.1" fill="#39c895"/><polygon points="338.4,224.1 346.6,222.8 352.4,229.9 344.2,231.2" fill="#30c5a2"/><polygon points="344.2,231.2 352.4,229.9 358.2,236.7 350,238.1" fill="#25c2ad"/><polygon points="350,238.1 358.2,236.7 364,243.3 355.8,244.7" fill="#15bfb7"/><polygon points="355.8,244.7 364,243.3 369.8,249.6 361.6,251.1" fill="#05bcc0"/><polygon points="361.6,251.1 369.8,249.6 375.6,255.6 367.4,257.3" fill="#00b8c9"/><polygon points="129.1,219.6 137.3,219 142.9,217.5 134.8,218.1" fill="#426afe"/><polygon points="134.8,218.1 142.9,217.5 148.6,215.6 140.4,216.2" fill="#3b72ff"/><polygon points="140.4,216.2 148.6,215.6 154.2,213.3 146.1,213.8" fill="#327cfc"/><polygon points="146.1,213.8 154.2,213.3 159.9,210.6 151.7,211.2" fill="#2e85f8"/><polygon points="151.7,211.2 159.9,210.6 165.5,207.6 157.4,208.1" fill="#2d8ef1"/><polygon points="157.4,208.1 165.5,207.6 171.2,204.2 163,204.7" fill="#2798ea"/><polygon points="163,204.7 171.2,204.2 176.8,200.4 168.7,200.8" fill="#22a1e4"/><polygon points="168.7,200.8 176.8,200.4 182.5,196.2 174.3,196.7" fill="#1babde"/><polygon points="174.3,196.7 182.5,196.2 188.1,191.7 180,192.1" fill="#0cb3d3"/><polygon points="180,192.1 188.1,191.7 193.8,186.8 185.6,187.2" fill="#01bac4"/><polygon points="185.6,187.2 193.8,186.8 199.4,181.6 191.3,182" fill="#1dc0b3"/><polygon points="191.3,182 199.4,181.6 205.1,176.1 196.9,176.4" fill="#31c6a0"/><polygon points="196.9,176.4 205.1,176.1 210.7,170.2 202.6,170.5" fill="#46cb88"/><polygon points="202.6,170.5 210.7,170.2 216.4,164.1 208.2,164.4" fill="#69cd6b"/><polygon points="208.2,164.4 216.4,164.1 222,157.8 213.9,157.9" fill="#93ca4b"/><polygon points="213.9,157.9 222,157.8 227.7,151.3 219.5,151.3" fill="#bbc430"/><polygon points="219.5,151.3 227.7,151.3 233.3,144.7 225.2,144.6" fill="#ddbd29"/><polygon points="225.2,144.6 233.3,144.7 239,138.3 230.8,137.9" fill="#f8ba3d"/><polygon points="230.8,137.9 239,138.3 244.6,132.3 236.5,131.7" fill="#fec835"/><polygon points="236.5,131.7 244.6,132.3 250.3,127.5 242.1,126.6" fill="#f9d72c"/><polygon points="242.1,126.6 250.3,127.5 255.9,124.7 247.8,123.7" fill="#f5e227"/><polygon points="247.8,123.7 255.9,124.7 262.9,125.5 254.8,124.7" fill="#f5e626"/><polygon points="254.8,124.7 262.9,125.5 268.7,129.6 260.6,129.3" fill="#f5e128"/><polygon points="260.6,129.3 268.7,129.6 274.5,135.9 266.4,136.1" fill="#f9d82c"/><polygon points="266.4,136.1 274.5,135.9 280.3,143.4 272.2,143.9" fill="#fdcc32"/><polygon points="272.2,143.9 280.3,143.4 286.2,151.6 278,152.3" fill="#fec03a"/><polygon points="278,152.3 286.2,151.6 292,160 283.8,160.8" fill="#f4ba3a"/><polygon points="283.8,160.8 292,160 297.8,168.4 289.6,169.4" fill="#e1bc2a"/><polygon points="289.6,169.4 297.8,168.4 303.6,176.9 295.4,177.8" fill="#cac128"/><polygon points="295.4,177.8 303.6,176.9 309.4,185.2 301.2,186.2" fill="#b1c635"/><polygon points="301.2,186.2 309.4,185.2 315.2,193.4 307,194.4" fill="#97ca48"/><polygon points="307,194.4 315.2,193.4 321,201.4 312.8,202.5" fill="#7bcc5d"/><polygon points="312.8,202.5 321,201.4 326.8,209.2 318.6,210.3" fill="#62cd71"/><polygon points="318.6,210.3 326.8,209.2 332.6,216.7 324.4,217.9" fill="#4ccb83"/><polygon points="324.4,217.9 332.6,216.7 338.4,224.1 330.2,225.3" fill="#3ac993"/><polygon points="330.2,225.3 338.4,224.1 344.2,231.2 336,232.5" fill="#31c6a0"/><polygon points="336,232.5 344.2,231.2 350,238.1 341.8,239.5" fill="#27c2ac"/><polygon points="341.8,239.5 350,238.1 355.8,244.7 347.6,246.2" fill="#17bfb6"/><polygon points="347.6,246.2 355.8,244.7 361.6,251.1 353.4,252.7" fill="#06bcc0"/><polygon points="353.4,252.7 361.6,251.1 367.4,257.3 359.2,258.9" fill="#00b8c8"/><polygon points="121,220.2 129.1,219.6 134.8,218.1 126.7,218.7" fill="#406dfe"/><polygon points="126.7,218.7 134.8,218.1 140.4,216.2 132.3,216.7" fill="#3875fe"/><polygon points="132.3,216.7 140.4,216.2 146.1,213.8 137.9,214.4" fill="#307efb"/><polygon points="137.9,214.4 146.1,213.8 151.7,211.2 143.6,211.7" fill="#2d87f7"/><polygon points="143.6,211.7 151.7,211.2 157.4,208.1 149.2,208.6" fill="#2b91ef"/><polygon points="149.2,208.6 157.4,208.1 163,204.7 154.9,205.2" fill="#269ae8"/><polygon points="154.9,205.2 163,204.7 168.7,200.8 160.5,201.3" fill="#21a3e3"/><polygon points="160.5,201.3 168.7,200.8 174.3,196.7 166.2,197.2" fill="#19addc"/><polygon points="166.2,197.2 174.3,196.7 180,192.1 171.8,192.6" fill="#07b5d0"/><polygon points="171.8,192.6 180,192.1 185.6,187.2 177.5,187.7" fill="#04bcc1"/><polygon points="177.5,187.7 185.6,187.2 191.3,182 183.1,182.4" fill="#23c1af"/><polygon points="183.1,182.4 191.3,182 196.9,176.4 188.8,176.8" fill="#34c79c"/><polygon points="188.8,176.8 196.9,176.4 202.6,170.5 194.4,170.9" fill="#4ccb83"/><polygon points="194.4,170.9 202.6,170.5 208.2,164.4 200.1,164.6" fill="#70cd65"/><polygon points="200.1,164.6 208.2,164.4 213.9,157.9 205.7,158.1" fill="#9ac945"/><polygon points="205.7,158.1 213.9,157.9 219.5,151.3 211.4,151.4" fill="#c2c22c"/><polygon points="211.4,151.4 219.5,151.3 225.2,144.6 217,144.5" fill="#e4bb2c"/><polygon points="217,144.5 225.2,144.6 230.8,137.9 222.7,137.7" fill="#fdbc3e"/><polygon points="222.7,137.7 230.8,137.9 236.5,131.7 228.3,131.2" fill="#fdcd31"/><polygon points="228.3,131.2 236.5,131.7 242.1,126.6 233.9,125.7" fill="#f7dd2a"/><polygon points="233.9,125.7 242.1,126.6 247.8,123.7 239.6,122.6" fill="#f5e825"/><polygon points="239.6,122.6 247.8,123.7 254.8,124.7 246.6,123.9" fill="#f5eb23"/><polygon points="246.6,123.9 254.8,124.7 260.6,129.3 252.4,129.1" fill="#f5e526"/><polygon points="252.4,129.1 260.6,129.3 266.4,136.1 258.2,136.3" fill="#f7db2a"/><polygon points="258.2,136.3 266.4,136.1 272.2,143.9 264,144.5" fill="#fccf30"/><polygon points="264,144.5 272.2,143.9 278,152.3 269.8,153" fill="#fec339"/><polygon points="269.8,153 278,152.3 283.8,160.8 275.6,161.7" fill="#f6ba3c"/><polygon points="275.6,161.7 283.8,160.8 289.6,169.4 281.4,170.3" fill="#e4bb2c"/><polygon points="281.4,170.3 289.6,169.4 295.4,177.8 287.2,178.8" fill="#cec027"/><polygon points="287.2,178.8 295.4,177.8 301.2,186.2 293,187.3" fill="#b5c533"/><polygon points="293,187.3 301.2,186.2 307,194.4 298.8,195.5" fill="#9bc945"/><polygon points="298.8,195.5 307,194.4 312.8,202.5 304.6,203.6" fill="#7fcc5a"/><polygon points="304.6,203.6 312.8,202.5 318.6,210.3 310.4,211.4" fill="#65cd6e"/><polygon points="310.4,211.4 318.6,210.3 324.4,217.9 316.2,219.1" fill="#4fcc81"/><polygon points="316.2,219.1 324.4,217.9 330.2,225.3 322,226.6" fill="#3cc991"/><polygon points="322,226.6 330.2,225.3 336,232.5 327.8,233.8" fill="#32c69f"/><polygon points="327.8,233.8 336,232.5 341.8,239.5 333.6,240.8" fill="#28c3ab"/><polygon points="333.6,240.8 341.8,239.5 347.6,246.2 339.4,247.7" fill="#19bfb5"/><polygon points="339.4,247.7 347.6,246.2 353.4,252.7 345.2,254.3" fill="#07bcbf"/><polygon points="345.2,254.3 353.4,252.7 359.2,258.9 351.1,260.6" fill="#00b9c8"/><polygon points="112.9,220.8 121,220.2 126.7,218.7 118.5,219.2" fill="#3e6fff"/><polygon points="118.5,219.2 126.7,218.7 132.3,216.7 124.2,217.3" fill="#3678fd"/><polygon points="124.2,217.3 132.3,216.7 137.9,214.4 129.8,214.9" fill="#2f81fa"/><polygon points="129.8,214.9 137.9,214.4 143.6,211.7 135.5,212.2" fill="#2d8af5"/><polygon points="135.5,212.2 143.6,211.7 149.2,208.6 141.1,209.1" fill="#2a93ee"/><polygon points="141.1,209.1 149.2,208.6 154.9,205.2 146.7,205.7" fill="#259ce7"/><polygon points="146.7,205.7 154.9,205.2 160.5,201.3 152.4,201.8" fill="#1fa5e2"/><polygon points="152.4,201.8 160.5,201.3 166.2,197.2 158,197.6" fill="#17aeda"/><polygon points="158,197.6 166.2,197.2 171.8,192.6 163.7,193.1" fill="#03b6cd"/><polygon points="163.7,193.1 171.8,192.6 177.5,187.7 169.3,188.2" fill="#09bdbd"/><polygon points="169.3,188.2 177.5,187.7 183.1,182.4 175,182.9" fill="#27c2ac"/><polygon points="175,182.9 183.1,182.4 188.8,176.8 180.6,177.3" fill="#37c898"/><polygon points="180.6,177.3 188.8,176.8 194.4,170.9 186.3,171.3" fill="#52cc7e"/><polygon points="186.3,171.3 194.4,170.9 200.1,164.6 191.9,165" fill="#78cc5f"/><polygon points="191.9,165 200.1,164.6 205.7,158.1 197.6,158.4" fill="#a2c83f"/><polygon points="197.6,158.4 205.7,158.1 211.4,151.4 203.2,151.6" fill="#c9c129"/><polygon points="203.2,151.6 211.4,151.4 217,144.5 208.9,144.6" fill="#eaba30"/><polygon points="208.9,144.6 217,144.5 222.7,137.7 214.5,137.5" fill="#fec03b"/><polygon points="214.5,137.5 222.7,137.7 228.3,131.2 220.1,130.7" fill="#fbd22f"/><polygon points="220.1,130.7 228.3,131.2 233.9,125.7 225.8,124.8" fill="#f5e327"/><polygon points="225.8,124.8 233.9,125.7 239.6,122.6 231.4,121.4" fill="#f5ee21"/><polygon points="231.4,121.4 239.6,122.6 246.6,123.9 238.4,123.2" fill="#f6f01f"/><polygon points="238.4,123.2 246.6,123.9 252.4,129.1 244.2,129.1" fill="#f5e924"/><polygon points="244.2,129.1 252.4,129.1 258.2,136.3 250.1,136.8" fill="#f6de29"/><polygon points="250.1,136.8 258.2,136.3 264,144.5 255.9,145.2" fill="#fcd12f"/><polygon points="255.9,145.2 264,144.5 269.8,153 261.7,153.9" fill="#fec537"/><polygon points="261.7,153.9 269.8,153 275.6,161.7 267.5,162.6" fill="#f9ba3e"/><polygon points="267.5,162.6 275.6,161.7 281.4,170.3 273.3,171.3" fill="#e7bb2e"/><polygon points="273.3,171.3 281.4,170.3 287.2,178.8 279.1,179.9" fill="#d1bf27"/><polygon points="279.1,179.9 287.2,178.8 293,187.3 284.9,188.3" fill="#b9c431"/><polygon points="284.9,188.3 293,187.3 298.8,195.5 290.7,196.6" fill="#9ec942"/><polygon points="290.7,196.6 298.8,195.5 304.6,203.6 296.5,204.7" fill="#83cc57"/><polygon points="296.5,204.7 304.6,203.6 310.4,211.4 302.3,212.6" fill="#69cd6b"/><polygon points="302.3,212.6 310.4,211.4 316.2,219.1 308.1,220.3" fill="#52cc7e"/><polygon points="308.1,220.3 316.2,219.1 322,226.6 313.9,227.8" fill="#3eca8f"/><polygon points="313.9,227.8 322,226.6 327.8,233.8 319.7,235.1" fill="#33c69d"/><polygon points="319.7,235.1 327.8,233.8 333.6,240.8 325.5,242.2" fill="#2ac3a9"/><polygon points="325.5,242.2 333.6,240.8 339.4,247.7 331.3,249.1" fill="#1bc0b4"/><polygon points="331.3,249.1 339.4,247.7 345.2,254.3 337.1,255.8" fill="#08bcbe"/><polygon points="337.1,255.8 345.2,254.3 351.1,260.6 342.9,262.3" fill="#00b9c7"/><polygon points="104.7,221.4 112.9,220.8 118.5,219.2 110.4,219.8" fill="#3c72ff"/><polygon points="110.4,219.8 118.5,219.2 124.2,217.3 116,217.8" fill="#337bfd"/><polygon points="116,217.8 124.2,217.3 129.8,214.9 121.7,215.5" fill="#2e83f9"/><polygon points="121.7,215.5 129.8,214.9 135.5,212.2 127.3,212.8" fill="#2d8cf3"/><polygon points="127.3,212.8 135.5,212.2 141.1,209.1 133,209.7" fill="#2895ec"/><polygon points="133,209.7 141.1,209.1 146.7,205.7 138.6,206.2" fill="#249ee6"/><polygon points="138.6,206.2 146.7,205.7 152.4,201.8 144.2,202.4" fill="#1ea8e1"/><polygon points="144.2,202.4 152.4,201.8 158,197.6 149.9,198.2" fill="#14b0d7"/><polygon points="149.9,198.2 158,197.6 163.7,193.1 155.5,193.6" fill="#01b8ca"/><polygon points="155.5,193.6 163.7,193.1 169.3,188.2 161.2,188.7" fill="#10beba"/><polygon points="161.2,188.7 169.3,188.2 175,182.9 166.8,183.4" fill="#2ac3a9"/><polygon points="166.8,183.4 175,182.9 180.6,177.3 172.5,177.8" fill="#3ac994"/><polygon points="172.5,177.8 180.6,177.3 186.3,171.3 178.1,171.8" fill="#58cc79"/><polygon points="178.1,171.8 186.3,171.3 191.9,165 183.8,165.5" fill="#7fcc5a"/><polygon points="183.8,165.5 191.9,165 197.6,158.4 189.4,158.8" fill="#a9c73b"/><polygon points="189.4,158.8 197.6,158.4 203.2,151.6 195.1,151.9" fill="#cfc027"/><polygon points="195.1,151.9 203.2,151.6 208.9,144.6 200.7,144.8" fill="#efba35"/><polygon points="200.7,144.8 208.9,144.6 214.5,137.5 206.3,137.5" fill="#fec338"/><polygon points="206.3,137.5 214.5,137.5 220.1,130.7 212,130.4" fill="#f9d62d"/><polygon points="212,130.4 220.1,130.7 225.8,124.8 217.6,124" fill="#f5e825"/><polygon points="217.6,124 225.8,124.8 231.4,121.4 223.3,120.2" fill="#f7f41c"/><polygon points="223.3,120.2 231.4,121.4 238.4,123.2 230.3,122.6" fill="#f7f51b"/><polygon points="230.3,122.6 238.4,123.2 244.2,129.1 236.1,129.3" fill="#f5ed22"/><polygon points="236.1,129.3 244.2,129.1 250.1,136.8 241.9,137.4" fill="#f5e128"/><polygon points="241.9,137.4 250.1,136.8 255.9,145.2 247.7,146.1" fill="#fbd42e"/><polygon points="247.7,146.1 255.9,145.2 261.7,153.9 253.5,154.9" fill="#fec636"/><polygon points="253.5,154.9 261.7,153.9 267.5,162.6 259.3,163.7" fill="#fbbb3e"/><polygon points="259.3,163.7 267.5,162.6 273.3,171.3 265.1,172.4" fill="#e9ba30"/><polygon points="265.1,172.4 273.3,171.3 279.1,179.9 270.9,181" fill="#d4bf27"/><polygon points="270.9,181 279.1,179.9 284.9,188.3 276.7,189.4" fill="#bcc42f"/><polygon points="276.7,189.4 284.9,188.3 290.7,196.6 282.5,197.7" fill="#a2c83f"/><polygon points="282.5,197.7 290.7,196.6 296.5,204.7 288.3,205.8" fill="#87cb54"/><polygon points="288.3,205.8 296.5,204.7 302.3,212.6 294.1,213.7" fill="#6ccd68"/><polygon points="294.1,213.7 302.3,212.6 308.1,220.3 299.9,221.4" fill="#55cc7c"/><polygon points="299.9,221.4 308.1,220.3 313.9,227.8 305.7,229" fill="#40ca8d"/><polygon points="305.7,229 313.9,227.8 319.7,235.1 311.5,236.4" fill="#34c79b"/><polygon points="311.5,236.4 319.7,235.1 325.5,242.2 317.3,243.6" fill="#2bc3a8"/><polygon points="317.3,243.6 325.5,242.2 331.3,249.1 323.1,250.6" fill="#1dc0b3"/><polygon points="323.1,250.6 331.3,249.1 337.1,255.8 328.9,257.4" fill="#0abdbd"/><polygon points="328.9,257.4 337.1,255.8 342.9,262.3 334.7,264" fill="#00b9c7"/><polygon points="96.6,222 104.7,221.4 110.4,219.8 102.2,220.4" fill="#3975fe"/><polygon points="102.2,220.4 110.4,219.8 116,217.8 107.9,218.4" fill="#317dfc"/><polygon points="107.9,218.4 116,217.8 121.7,215.5 113.5,216" fill="#2e86f8"/><polygon points="113.5,216 121.7,215.5 127.3,212.8 119.2,213.3" fill="#2c8ff1"/><polygon points="119.2,213.3 127.3,212.8 133,209.7 124.8,210.2" fill="#2797ea"/><polygon points="124.8,210.2 133,209.7 138.6,206.2 130.5,206.8" fill="#23a0e5"/><polygon points="130.5,206.8 138.6,206.2 144.2,202.4 136.1,202.9" fill="#1ca9df"/><polygon points="136.1,202.9 144.2,202.4 149.9,198.2 141.7,198.7" fill="#10b2d5"/><polygon points="141.7,198.7 149.9,198.2 155.5,193.6 147.4,194.2" fill="#00b9c7"/><polygon points="147.4,194.2 155.5,193.6 161.2,188.7 153,189.3" fill="#15bfb7"/><polygon points="153,189.3 161.2,188.7 166.8,183.4 158.7,184" fill="#2dc4a5"/><polygon points="158.7,184 166.8,183.4 172.5,177.8 164.3,178.4" fill="#3dca90"/><polygon points="164.3,178.4 172.5,177.8 178.1,171.8 170,172.4" fill="#5dcd75"/><polygon points="170,172.4 178.1,171.8 183.8,165.5 175.6,166" fill="#85cb55"/><polygon points="175.6,166 183.8,165.5 189.4,158.8 181.3,159.4" fill="#afc637"/><polygon points="181.3,159.4 189.4,158.8 195.1,151.9 186.9,152.4" fill="#d4bf27"/><polygon points="186.9,152.4 195.1,151.9 200.7,144.8 192.5,145.2" fill="#f3ba39"/><polygon points="192.5,145.2 200.7,144.8 206.3,137.5 198.2,137.7" fill="#fec736"/><polygon points="198.2,137.7 206.3,137.5 212,130.4 203.8,130.2" fill="#f7db2b"/><polygon points="203.8,130.2 212,130.4 217.6,124 209.5,123.3" fill="#f5ee21"/><polygon points="209.5,123.3 217.6,124 223.3,120.2 215.1,119" fill="#f9fb15"/><polygon points="215.1,119 223.3,120.2 230.3,122.6 222.1,122.3" fill="#f9fa16"/><polygon points="222.1,122.3 230.3,122.6 236.1,129.3 227.9,129.8" fill="#f6f020"/><polygon points="227.9,129.8 236.1,129.3 241.9,137.4 233.7,138.3" fill="#f5e327"/><polygon points="233.7,138.3 241.9,137.4 247.7,146.1 239.5,147.2" fill="#fad52d"/><polygon points="239.5,147.2 247.7,146.1 253.5,154.9 245.3,156.1" fill="#fec835"/><polygon points="245.3,156.1 253.5,154.9 259.3,163.7 251.1,164.9" fill="#fdbc3e"/><polygon points="251.1,164.9 259.3,163.7 265.1,172.4 256.9,173.6" fill="#ecba32"/><polygon points="256.9,173.6 265.1,172.4 270.9,181 262.7,182.1" fill="#d7be28"/><polygon points="262.7,182.1 270.9,181 276.7,189.4 268.5,190.6" fill="#bfc32d"/><polygon points="268.5,190.6 276.7,189.4 282.5,197.7 274.3,198.8" fill="#a6c83d"/><polygon points="274.3,198.8 282.5,197.7 288.3,205.8 280.1,206.9" fill="#8bcb51"/><polygon points="280.1,206.9 288.3,205.8 294.1,213.7 285.9,214.9" fill="#70cd65"/><polygon points="285.9,214.9 294.1,213.7 299.9,221.4 291.7,222.6" fill="#58cc79"/><polygon points="291.7,222.6 299.9,221.4 305.7,229 297.5,230.2" fill="#43ca8b"/><polygon points="297.5,230.2 305.7,229 311.5,236.4 303.3,237.7" fill="#35c79a"/><polygon points="303.3,237.7 311.5,236.4 317.3,243.6 309.1,244.9" fill="#2cc4a7"/><polygon points="309.1,244.9 317.3,243.6 323.1,250.6 314.9,252" fill="#1fc0b2"/><polygon points="314.9,252 323.1,250.6 328.9,257.4 320.7,259" fill="#0bbdbd"/><polygon points="320.7,259 328.9,257.4 334.7,264 326.5,265.7" fill="#00b9c6"/></g>
<line x1="96.6" y1="273.4" x2="96.6" y2="72" stroke="#262626" stroke-width="1.25"/>
<line x1="96.6" y1="273.4" x2="326.5" y2="365.8" stroke="#262626" stroke-width="1.25"/>
<line x1="326.5" y1="365.8" x2="629.3" y2="294.8" stroke="#262626" stroke-width="1.25"/>
<line x1="358.4" y1="358.3" x2="365.2" y2="361" stroke="#262626" stroke-width="1.25"/>
<line x1="412" y1="345.8" x2="418.7" y2="348.5" stroke="#262626" stroke-width="1.25"/>
<line x1="465.5" y1="333.2" x2="472.2" y2="335.9" stroke="#262626" stroke-width="1.25"/>
<line x1="519" y1="320.7" x2="525.7" y2="323.4" stroke="#262626" stroke-width="1.25"/>
<line x1="572.5" y1="308.1" x2="579.2" y2="310.8" stroke="#262626" stroke-width="1.25"/>
<line x1="626" y1="295.6" x2="632.7" y2="298.3" stroke="#262626" stroke-width="1.25"/>
<line x1="96.6" y1="273.4" x2="89.5" y2="275.1" stroke="#262626" stroke-width="1.25"/>
<line x1="211.6" y1="319.6" x2="204.4" y2="321.3" stroke="#262626" stroke-width="1.25"/>
<line x1="326.5" y1="365.8" x2="319.4" y2="367.5" stroke="#262626" stroke-width="1.25"/>
<line x1="96.6" y1="273.4" x2="89.8" y2="270.7" stroke="#262626" stroke-width="1.25"/>
<line x1="96.6" y1="232.7" x2="89.8" y2="230" stroke="#262626" stroke-width="1.25"/>
<line x1="96.6" y1="192" x2="89.8" y2="189.3" stroke="#262626" stroke-width="1.25"/>
<line x1="96.6" y1="151.3" x2="89.8" y2="148.6" stroke="#262626" stroke-width="1.25"/>
<line x1="96.6" y1="110.6" x2="89.8" y2="107.9" stroke="#262626" stroke-width="1.25"/>
<text x="81.3" y="275.6" text-anchor="end" style="font-family:'Liberation Sans',Arial,Helvetica,sans-serif;font-size:20.2px;fill:#262626">3.5</text>
<text x="81.3" y="234.9" text-anchor="end" style="font-family:'Liberation Sans',Arial,Helvetica,sans-serif;font-size:20.2px;fill:#262626">4</text>
<text x="81.3" y="194.2" text-anchor="end" style="font-family:'Liberation Sans',Arial,Helvetica,sans-serif;font-size:20.2px;fill:#262626">4.5</text>
<text x="81.3" y="153.5" text-anchor="end" style="font-family:'Liberation Sans',Arial,Helvetica,sans-serif;font-size:20.2px;fill:#262626">5</text>
<text x="81.3" y="112.8" text-anchor="end" style="font-family:'Liberation Sans',Arial,Helvetica,sans-serif;font-size:20.2px;fill:#262626">5.5</text>
<text x="373.3" y="385.7" text-anchor="start" style="font-family:'Liberation Sans',Arial,Helvetica,sans-serif;font-size:20.2px;fill:#262626">0.04</text>
<text x="426.9" y="373.2" text-anchor="start" style="font-family:'Liberation Sans',Arial,Helvetica,sans-serif;font-size:20.2px;fill:#262626">0.06</text>
<text x="480.4" y="360.6" text-anchor="start" style="font-family:'Liberation Sans',Arial,Helvetica,sans-serif;font-size:20.2px;fill:#262626">0.08</text>
<text x="533.9" y="348.1" text-anchor="start" style="font-family:'Liberation Sans',Arial,Helvetica,sans-serif;font-size:20.2px;fill:#262626">0.1</text>
<text x="587.4" y="335.5" text-anchor="start" style="font-family:'Liberation Sans',Arial,Helvetica,sans-serif;font-size:20.2px;fill:#262626">0.12</text>
<text x="640.9" y="323" text-anchor="start" style="font-family:'Liberation Sans',Arial,Helvetica,sans-serif;font-size:20.2px;fill:#262626">0.14</text>
<text x="81.1" y="298.4" text-anchor="end" style="font-family:'Liberation Sans',Arial,Helvetica,sans-serif;font-size:20.2px;fill:#262626">0.3</text>
<text x="196.1" y="344.6" text-anchor="end" style="font-family:'Liberation Sans',Arial,Helvetica,sans-serif;font-size:20.2px;fill:#262626">0.2</text>
<text x="311" y="390.8" text-anchor="end" style="font-family:'Liberation Sans',Arial,Helvetica,sans-serif;font-size:20.2px;fill:#262626">0.1</text>
<text transform="translate(16.2,175.8) rotate(-90)" text-anchor="middle" style="font-family:'Liberation Sans',Arial,Helvetica,sans-serif;font-size:19.3px;font-weight:bold;fill:#262626">Non-dimensional</text>
<text transform="translate(40.8,175.8) rotate(-90)" text-anchor="middle" style="font-family:'Liberation Sans',Arial,Helvetica,sans-serif;font-size:19.3px;font-weight:bold;fill:#262626">frequency</text>
<text x="35.6" y="360" style="font-family:'Liberation Sans',Arial,Helvetica,sans-serif;font-size:19.3px;font-weight:bold;fill:#262626">L<tspan dy="9.6" style="font-size:15.2px">11</tspan><tspan dy="-9.6">/L1=L</tspan><tspan dy="9.6" style="font-size:15.2px">21</tspan><tspan dy="-9.6">/L2</tspan></text>
<text style="font-family:'Liberation Sans',Arial,Helvetica,sans-serif;font-size:19.3px;font-weight:bold;fill:#262626"><tspan x="465.7" y="387.3">M/</tspan><tspan style="font-weight:normal;font-style:italic">ρ</tspan><tspan dy="10" style="font-size:15.2px">1</tspan><tspan dy="-10">*A</tspan><tspan dy="10" style="font-size:15.2px">1</tspan><tspan dy="-10">*L</tspan><tspan dy="10" style="font-size:15.2px">1</tspan><tspan dy="-10">=</tspan><tspan x="574.5" y="387.3">M/</tspan><tspan style="font-weight:normal;font-style:italic">ρ</tspan><tspan dy="10" style="font-size:15.2px">2</tspan><tspan dy="-10">*A</tspan><tspan dy="10" style="font-size:15.2px">2</tspan><tspan dy="-10">*L</tspan><tspan dy="10" style="font-size:15.2px">2</tspan></text>
</svg>
</body></html>
